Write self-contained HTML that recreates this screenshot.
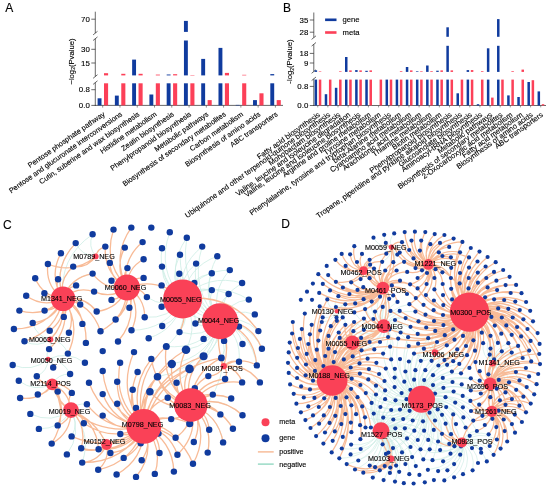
<!DOCTYPE html>
<html><head><meta charset="utf-8"><title>Figure</title>
<style>html,body{margin:0;padding:0;background:#fff}svg{display:block}text{font-family:"Liberation Sans",Arial,sans-serif;stroke:#000;stroke-width:.12px}</style>
</head><body>
<svg width="550" height="489" viewBox="0 0 550 489" font-family="Liberation Sans, Arial, sans-serif" fill="#000">
<line x1="95.3" y1="11.7" x2="95.3" y2="33.1" stroke="#2a2a2a" stroke-width="0.7"/>
<line x1="95.3" y1="38.7" x2="95.3" y2="76.5" stroke="#2a2a2a" stroke-width="0.7"/>
<line x1="95.3" y1="82.6" x2="95.3" y2="105.8" stroke="#2a2a2a" stroke-width="0.7"/>
<line x1="93.1" y1="34.9" x2="97.5" y2="31.3" stroke="#2a2a2a" stroke-width="0.7"/>
<line x1="93.1" y1="40.5" x2="97.5" y2="36.9" stroke="#2a2a2a" stroke-width="0.7"/>
<line x1="93.1" y1="78.3" x2="97.5" y2="74.7" stroke="#2a2a2a" stroke-width="0.7"/>
<line x1="93.1" y1="84.4" x2="97.5" y2="80.8" stroke="#2a2a2a" stroke-width="0.7"/>
<line x1="94.9" y1="105.4" x2="283" y2="105.4" stroke="#2a2a2a" stroke-width="0.7"/>
<line x1="91.3" y1="19.2" x2="95.3" y2="19.2" stroke="#2a2a2a" stroke-width="0.7"/>
<text x="89.8" y="21.95" font-size="7.9" text-anchor="end">70</text>
<line x1="91.3" y1="49.3" x2="95.3" y2="49.3" stroke="#2a2a2a" stroke-width="0.7"/>
<text x="89.8" y="52.05" font-size="7.9" text-anchor="end">30</text>
<line x1="91.3" y1="63" x2="95.3" y2="63" stroke="#2a2a2a" stroke-width="0.7"/>
<text x="89.8" y="65.75" font-size="7.9" text-anchor="end">15</text>
<line x1="91.3" y1="89.7" x2="95.3" y2="89.7" stroke="#2a2a2a" stroke-width="0.7"/>
<text x="89.8" y="92.45" font-size="7.9" text-anchor="end">0.8</text>
<line x1="91.3" y1="105.4" x2="95.3" y2="105.4" stroke="#2a2a2a" stroke-width="0.7"/>
<text x="89.8" y="108.15" font-size="7.9" text-anchor="end">0.0</text>
<text x="73.6" y="61.5" font-size="7.7" text-anchor="middle" transform="rotate(-90 73.6 61.5)">−log<tspan font-size="5" dy="1.5">2</tspan><tspan dy="-1.5">(Pvalue)</tspan></text>
<rect x="97.6" y="98.3" width="3.9" height="7.1" fill="#103B9E"/>
<rect x="104" y="83.3" width="4.1" height="22.1" fill="#FC4058"/>
<rect x="104" y="73.2" width="4.1" height="2.2" fill="#FC4058"/>
<line x1="102.7" y1="105.4" x2="102.7" y2="107.6" stroke="#444" stroke-width="0.6"/>
<text x="105.5" y="115.3" font-size="7.3" text-anchor="end" transform="rotate(-35 105.5 115.3)">Pentose phosphate pathway</text>
<rect x="114.87" y="95.6" width="3.9" height="9.8" fill="#103B9E"/>
<rect x="121.27" y="83.3" width="4.1" height="22.1" fill="#FC4058"/>
<rect x="121.27" y="73.8" width="4.1" height="1.6" fill="#FC4058"/>
<line x1="119.97" y1="105.4" x2="119.97" y2="107.6" stroke="#444" stroke-width="0.6"/>
<text x="122.77" y="115.3" font-size="7.3" text-anchor="end" transform="rotate(-35 122.77 115.3)">Pentose and glucuronate interconversions</text>
<rect x="132.14" y="83.3" width="3.9" height="22.1" fill="#103B9E"/>
<rect x="132.14" y="59.6" width="3.9" height="15.8" fill="#103B9E"/>
<rect x="138.54" y="83.3" width="4.1" height="22.1" fill="#FC4058"/>
<rect x="138.54" y="73.8" width="4.1" height="1.6" fill="#FC4058"/>
<line x1="137.24" y1="105.4" x2="137.24" y2="107.6" stroke="#444" stroke-width="0.6"/>
<text x="140.04" y="115.3" font-size="7.3" text-anchor="end" transform="rotate(-35 140.04 115.3)">Cutin, suberine and wax biosynthesis</text>
<rect x="149.41" y="94.5" width="3.9" height="10.9" fill="#103B9E"/>
<rect x="155.81" y="83.3" width="4.1" height="22.1" fill="#FC4058"/>
<rect x="155.81" y="74.6" width="4.1" height="0.8" fill="#FC4058"/>
<line x1="154.51" y1="105.4" x2="154.51" y2="107.6" stroke="#444" stroke-width="0.6"/>
<text x="157.31" y="115.3" font-size="7.3" text-anchor="end" transform="rotate(-35 157.31 115.3)">Histidine metabolism</text>
<rect x="166.68" y="83.3" width="3.9" height="22.1" fill="#103B9E"/>
<rect x="166.68" y="74.5" width="3.9" height="0.9" fill="#103B9E"/>
<rect x="173.08" y="83.3" width="4.1" height="22.1" fill="#FC4058"/>
<rect x="173.08" y="74.2" width="4.1" height="1.2" fill="#FC4058"/>
<line x1="171.78" y1="105.4" x2="171.78" y2="107.6" stroke="#444" stroke-width="0.6"/>
<text x="174.58" y="115.3" font-size="7.3" text-anchor="end" transform="rotate(-35 174.58 115.3)">Zeatin biosynthesis</text>
<rect x="183.95" y="83.3" width="3.9" height="22.1" fill="#103B9E"/>
<rect x="183.95" y="40.5" width="3.9" height="34.9" fill="#103B9E"/>
<rect x="183.95" y="20.9" width="3.9" height="11" fill="#103B9E"/>
<rect x="190.35" y="83.3" width="4.1" height="22.1" fill="#FC4058"/>
<rect x="190.35" y="75" width="4.1" height="0.4" fill="#FC4058"/>
<line x1="189.05" y1="105.4" x2="189.05" y2="107.6" stroke="#444" stroke-width="0.6"/>
<text x="191.85" y="115.3" font-size="7.3" text-anchor="end" transform="rotate(-35 191.85 115.3)">Phenylpropanoid biosynthesis</text>
<rect x="201.22" y="83.3" width="3.9" height="22.1" fill="#103B9E"/>
<rect x="201.22" y="58.9" width="3.9" height="16.5" fill="#103B9E"/>
<rect x="207.62" y="100.1" width="4.1" height="5.3" fill="#FC4058"/>
<line x1="206.32" y1="105.4" x2="206.32" y2="107.6" stroke="#444" stroke-width="0.6"/>
<text x="209.12" y="115.3" font-size="7.3" text-anchor="end" transform="rotate(-35 209.12 115.3)">Metabolic pathways</text>
<rect x="218.49" y="83.3" width="3.9" height="22.1" fill="#103B9E"/>
<rect x="218.49" y="47.9" width="3.9" height="27.5" fill="#103B9E"/>
<rect x="224.89" y="83.3" width="4.1" height="22.1" fill="#FC4058"/>
<rect x="224.89" y="72.9" width="4.1" height="2.5" fill="#FC4058"/>
<line x1="223.59" y1="105.4" x2="223.59" y2="107.6" stroke="#444" stroke-width="0.6"/>
<text x="226.39" y="115.3" font-size="7.3" text-anchor="end" transform="rotate(-35 226.39 115.3)">Biosynthesis of secondary metabolites</text>
<rect x="235.76" y="104.9" width="3.9" height="0.5" fill="#103B9E"/>
<rect x="242.16" y="83.3" width="4.1" height="22.1" fill="#FC4058"/>
<rect x="242.16" y="74.8" width="4.1" height="0.6" fill="#FC4058"/>
<line x1="240.86" y1="105.4" x2="240.86" y2="107.6" stroke="#444" stroke-width="0.6"/>
<text x="243.66" y="115.3" font-size="7.3" text-anchor="end" transform="rotate(-35 243.66 115.3)">Carbon metabolism</text>
<rect x="253.03" y="100.1" width="3.9" height="5.3" fill="#103B9E"/>
<rect x="259.43" y="93.3" width="4.1" height="12.1" fill="#FC4058"/>
<line x1="258.13" y1="105.4" x2="258.13" y2="107.6" stroke="#444" stroke-width="0.6"/>
<text x="260.93" y="115.3" font-size="7.3" text-anchor="end" transform="rotate(-35 260.93 115.3)">Biosynthesis of amino acids</text>
<rect x="270.3" y="83.3" width="3.9" height="22.1" fill="#103B9E"/>
<rect x="270.3" y="74.1" width="3.9" height="1.3" fill="#103B9E"/>
<rect x="276.7" y="100.1" width="4.1" height="5.3" fill="#FC4058"/>
<line x1="275.4" y1="105.4" x2="275.4" y2="107.6" stroke="#444" stroke-width="0.6"/>
<text x="278.2" y="115.3" font-size="7.3" text-anchor="end" transform="rotate(-35 278.2 115.3)">ABC transporters</text>
<text x="5.2" y="11.8" font-size="12" text-anchor="start">A</text>
<line x1="313.8" y1="12.5" x2="313.8" y2="37.6" stroke="#2a2a2a" stroke-width="0.7"/>
<line x1="313.8" y1="44.3" x2="313.8" y2="71.5" stroke="#2a2a2a" stroke-width="0.7"/>
<line x1="313.8" y1="78.8" x2="313.8" y2="105.9" stroke="#2a2a2a" stroke-width="0.7"/>
<line x1="311.6" y1="39.4" x2="316" y2="35.8" stroke="#2a2a2a" stroke-width="0.7"/>
<line x1="311.6" y1="46.1" x2="316" y2="42.5" stroke="#2a2a2a" stroke-width="0.7"/>
<line x1="311.6" y1="73.3" x2="316" y2="69.7" stroke="#2a2a2a" stroke-width="0.7"/>
<line x1="311.6" y1="80.6" x2="316" y2="77" stroke="#2a2a2a" stroke-width="0.7"/>
<line x1="313.4" y1="105.5" x2="546" y2="105.5" stroke="#2a2a2a" stroke-width="0.7"/>
<line x1="309.8" y1="20" x2="313.8" y2="20" stroke="#2a2a2a" stroke-width="0.7"/>
<text x="308.3" y="22.75" font-size="7.9" text-anchor="end">35</text>
<line x1="309.8" y1="32.2" x2="313.8" y2="32.2" stroke="#2a2a2a" stroke-width="0.7"/>
<text x="308.3" y="34.95" font-size="7.9" text-anchor="end">28</text>
<line x1="309.8" y1="53.4" x2="313.8" y2="53.4" stroke="#2a2a2a" stroke-width="0.7"/>
<text x="308.3" y="56.15" font-size="7.9" text-anchor="end">18</text>
<line x1="309.8" y1="63" x2="313.8" y2="63" stroke="#2a2a2a" stroke-width="0.7"/>
<text x="308.3" y="65.75" font-size="7.9" text-anchor="end">9</text>
<line x1="309.8" y1="86.4" x2="313.8" y2="86.4" stroke="#2a2a2a" stroke-width="0.7"/>
<text x="308.3" y="89.15" font-size="7.9" text-anchor="end">0.8</text>
<line x1="309.8" y1="105.5" x2="313.8" y2="105.5" stroke="#2a2a2a" stroke-width="0.7"/>
<text x="308.3" y="108.25" font-size="7.9" text-anchor="end">0.0</text>
<text x="292" y="61.5" font-size="7.7" text-anchor="middle" transform="rotate(-90 292 61.5)">-log<tspan font-size="5" dy="1.5">2</tspan><tspan dy="-1.5">(Pvalue)</tspan></text>
<rect x="314.6" y="79.6" width="2.5" height="25.9" fill="#103B9E"/>
<rect x="314.6" y="70.3" width="2.5" height="1.6" fill="#103B9E"/>
<rect x="318.8" y="79.6" width="2.5" height="25.9" fill="#FC4058"/>
<rect x="318.8" y="71.4" width="2.5" height="0.5" fill="#FC4058"/>
<line x1="317.75" y1="105.5" x2="317.75" y2="107.4" stroke="#555" stroke-width="0.6"/>
<text x="320.55" y="115.9" font-size="7.45" text-anchor="end" transform="rotate(-35.5 320.55 115.9)">Fatty acid biosynthesis</text>
<rect x="324.74" y="94.2" width="2.5" height="11.3" fill="#103B9E"/>
<rect x="328.94" y="79.6" width="2.5" height="25.9" fill="#FC4058"/>
<line x1="327.88" y1="105.5" x2="327.88" y2="107.4" stroke="#555" stroke-width="0.6"/>
<text x="330.69" y="115.9" font-size="7.45" text-anchor="end" transform="rotate(-35.5 330.69 115.9)">Ubiquinone and other terpenoid-quinone biosynthesis</text>
<rect x="334.87" y="87.8" width="2.5" height="17.7" fill="#103B9E"/>
<rect x="339.07" y="79.6" width="2.5" height="25.9" fill="#FC4058"/>
<rect x="339.07" y="71.3" width="2.5" height="0.6" fill="#FC4058"/>
<line x1="338.02" y1="105.5" x2="338.02" y2="107.4" stroke="#555" stroke-width="0.6"/>
<text x="340.82" y="115.9" font-size="7.45" text-anchor="end" transform="rotate(-35.5 340.82 115.9)">Monobactam biosynthesis</text>
<rect x="345" y="79.6" width="2.5" height="25.9" fill="#103B9E"/>
<rect x="345" y="57" width="2.5" height="14.9" fill="#103B9E"/>
<rect x="349.21" y="79.6" width="2.5" height="25.9" fill="#FC4058"/>
<rect x="349.21" y="70.4" width="2.5" height="1.5" fill="#FC4058"/>
<line x1="348.15" y1="105.5" x2="348.15" y2="107.4" stroke="#555" stroke-width="0.6"/>
<text x="350.95" y="115.9" font-size="7.45" text-anchor="end" transform="rotate(-35.5 350.95 115.9)">Valine, leucine and isoleucine degradation</text>
<rect x="355.14" y="79.6" width="2.5" height="25.9" fill="#103B9E"/>
<rect x="355.14" y="70.1" width="2.5" height="1.8" fill="#103B9E"/>
<rect x="359.34" y="79.6" width="2.5" height="25.9" fill="#FC4058"/>
<rect x="359.34" y="70.4" width="2.5" height="1.5" fill="#FC4058"/>
<line x1="358.29" y1="105.5" x2="358.29" y2="107.4" stroke="#555" stroke-width="0.6"/>
<text x="361.09" y="115.9" font-size="7.45" text-anchor="end" transform="rotate(-35.5 361.09 115.9)">Valine, leucine and isoleucine biosynthesis</text>
<rect x="365.28" y="79.6" width="2.5" height="25.9" fill="#103B9E"/>
<rect x="365.28" y="70.8" width="2.5" height="1.1" fill="#103B9E"/>
<rect x="369.48" y="79.6" width="2.5" height="25.9" fill="#FC4058"/>
<rect x="369.48" y="70.4" width="2.5" height="1.5" fill="#FC4058"/>
<line x1="368.43" y1="105.5" x2="368.43" y2="107.4" stroke="#555" stroke-width="0.6"/>
<text x="371.23" y="115.9" font-size="7.45" text-anchor="end" transform="rotate(-35.5 371.23 115.9)">Arginine and proline metabolism</text>
<rect x="379.61" y="79.6" width="2.5" height="25.9" fill="#FC4058"/>
<line x1="378.56" y1="105.5" x2="378.56" y2="107.4" stroke="#555" stroke-width="0.6"/>
<text x="381.36" y="115.9" font-size="7.45" text-anchor="end" transform="rotate(-35.5 381.36 115.9)">Tyrosine metabolism</text>
<rect x="385.55" y="79.6" width="2.5" height="25.9" fill="#103B9E"/>
<rect x="389.75" y="79.6" width="2.5" height="25.9" fill="#FC4058"/>
<line x1="388.69" y1="105.5" x2="388.69" y2="107.4" stroke="#555" stroke-width="0.6"/>
<text x="391.5" y="115.9" font-size="7.45" text-anchor="end" transform="rotate(-35.5 391.5 115.9)">Phenylalanine, tyrosine and tryptophan biosynthesis</text>
<rect x="395.68" y="79.6" width="2.5" height="25.9" fill="#103B9E"/>
<rect x="399.88" y="79.6" width="2.5" height="25.9" fill="#FC4058"/>
<rect x="399.88" y="71.2" width="2.5" height="0.7" fill="#FC4058"/>
<line x1="398.83" y1="105.5" x2="398.83" y2="107.4" stroke="#555" stroke-width="0.6"/>
<text x="401.63" y="115.9" font-size="7.45" text-anchor="end" transform="rotate(-35.5 401.63 115.9)">beta-Alanine metabolism</text>
<rect x="405.82" y="79.6" width="2.5" height="25.9" fill="#103B9E"/>
<rect x="405.82" y="67" width="2.5" height="4.9" fill="#103B9E"/>
<rect x="410.01" y="79.6" width="2.5" height="25.9" fill="#FC4058"/>
<rect x="410.01" y="70.4" width="2.5" height="1.5" fill="#FC4058"/>
<line x1="408.97" y1="105.5" x2="408.97" y2="107.4" stroke="#555" stroke-width="0.6"/>
<text x="411.77" y="115.9" font-size="7.45" text-anchor="end" transform="rotate(-35.5 411.77 115.9)">Cyanoamino acid metabolism</text>
<rect x="415.95" y="79.6" width="2.5" height="25.9" fill="#103B9E"/>
<rect x="415.95" y="71.3" width="2.5" height="0.6" fill="#103B9E"/>
<rect x="420.15" y="79.6" width="2.5" height="25.9" fill="#FC4058"/>
<rect x="420.15" y="71.3" width="2.5" height="0.6" fill="#FC4058"/>
<line x1="419.1" y1="105.5" x2="419.1" y2="107.4" stroke="#555" stroke-width="0.6"/>
<text x="421.9" y="115.9" font-size="7.45" text-anchor="end" transform="rotate(-35.5 421.9 115.9)">Arachidonic acid metabolism</text>
<rect x="426.09" y="79.6" width="2.5" height="25.9" fill="#103B9E"/>
<rect x="426.09" y="65.5" width="2.5" height="6.4" fill="#103B9E"/>
<rect x="430.29" y="79.6" width="2.5" height="25.9" fill="#FC4058"/>
<rect x="430.29" y="71.2" width="2.5" height="0.7" fill="#FC4058"/>
<line x1="429.24" y1="105.5" x2="429.24" y2="107.4" stroke="#555" stroke-width="0.6"/>
<text x="432.04" y="115.9" font-size="7.45" text-anchor="end" transform="rotate(-35.5 432.04 115.9)">Thiamine metabolism</text>
<rect x="436.22" y="79.6" width="2.5" height="25.9" fill="#103B9E"/>
<rect x="436.22" y="70.7" width="2.5" height="1.2" fill="#103B9E"/>
<rect x="440.42" y="79.6" width="2.5" height="25.9" fill="#FC4058"/>
<rect x="440.42" y="70.4" width="2.5" height="1.5" fill="#FC4058"/>
<line x1="439.37" y1="105.5" x2="439.37" y2="107.4" stroke="#555" stroke-width="0.6"/>
<text x="442.17" y="115.9" font-size="7.45" text-anchor="end" transform="rotate(-35.5 442.17 115.9)">Biotin metabolism</text>
<rect x="446.36" y="79.6" width="2.5" height="25.9" fill="#103B9E"/>
<rect x="446.36" y="45.8" width="2.5" height="26.1" fill="#103B9E"/>
<rect x="446.36" y="27.3" width="2.5" height="9.5" fill="#103B9E"/>
<rect x="450.56" y="79.6" width="2.5" height="25.9" fill="#FC4058"/>
<rect x="450.56" y="70.4" width="2.5" height="1.5" fill="#FC4058"/>
<line x1="449.5" y1="105.5" x2="449.5" y2="107.4" stroke="#555" stroke-width="0.6"/>
<text x="452.31" y="115.9" font-size="7.45" text-anchor="end" transform="rotate(-35.5 452.31 115.9)">Phenylpropanoid biosynthesis</text>
<rect x="456.49" y="93.3" width="2.5" height="12.2" fill="#103B9E"/>
<rect x="460.69" y="79.6" width="2.5" height="25.9" fill="#FC4058"/>
<line x1="459.64" y1="105.5" x2="459.64" y2="107.4" stroke="#555" stroke-width="0.6"/>
<text x="462.44" y="115.9" font-size="7.45" text-anchor="end" transform="rotate(-35.5 462.44 115.9)">Tropane, piperidine and pyridine alkaloid biosynthesis</text>
<rect x="466.62" y="79.6" width="2.5" height="25.9" fill="#103B9E"/>
<rect x="466.62" y="70.1" width="2.5" height="1.8" fill="#103B9E"/>
<rect x="470.83" y="79.6" width="2.5" height="25.9" fill="#FC4058"/>
<rect x="470.83" y="70.1" width="2.5" height="1.8" fill="#FC4058"/>
<line x1="469.77" y1="105.5" x2="469.77" y2="107.4" stroke="#555" stroke-width="0.6"/>
<text x="472.57" y="115.9" font-size="7.45" text-anchor="end" transform="rotate(-35.5 472.57 115.9)">Glucosinolate biosynthesis</text>
<rect x="476.76" y="104.2" width="2.5" height="1.3" fill="#103B9E"/>
<rect x="480.96" y="79.6" width="2.5" height="25.9" fill="#FC4058"/>
<rect x="480.96" y="71.2" width="2.5" height="0.7" fill="#FC4058"/>
<line x1="479.91" y1="105.5" x2="479.91" y2="107.4" stroke="#555" stroke-width="0.6"/>
<text x="482.71" y="115.9" font-size="7.45" text-anchor="end" transform="rotate(-35.5 482.71 115.9)">Aminoacyl-tRNA biosynthesis</text>
<rect x="486.89" y="79.6" width="2.5" height="25.9" fill="#103B9E"/>
<rect x="486.89" y="48.3" width="2.5" height="23.6" fill="#103B9E"/>
<rect x="491.1" y="97.6" width="2.5" height="7.9" fill="#FC4058"/>
<line x1="490.04" y1="105.5" x2="490.04" y2="107.4" stroke="#555" stroke-width="0.6"/>
<text x="492.84" y="115.9" font-size="7.45" text-anchor="end" transform="rotate(-35.5 492.84 115.9)">Metabolic pathways</text>
<rect x="497.03" y="79.6" width="2.5" height="25.9" fill="#103B9E"/>
<rect x="497.03" y="45.8" width="2.5" height="26.1" fill="#103B9E"/>
<rect x="497.03" y="19.1" width="2.5" height="17.7" fill="#103B9E"/>
<rect x="501.23" y="79.6" width="2.5" height="25.9" fill="#FC4058"/>
<line x1="500.18" y1="105.5" x2="500.18" y2="107.4" stroke="#555" stroke-width="0.6"/>
<text x="502.98" y="115.9" font-size="7.45" text-anchor="end" transform="rotate(-35.5 502.98 115.9)">Biosynthesis of secondary metabolites</text>
<rect x="507.17" y="95.4" width="2.5" height="10.1" fill="#103B9E"/>
<rect x="511.37" y="79.6" width="2.5" height="25.9" fill="#FC4058"/>
<rect x="511.37" y="71.2" width="2.5" height="0.7" fill="#FC4058"/>
<line x1="510.31" y1="105.5" x2="510.31" y2="107.4" stroke="#555" stroke-width="0.6"/>
<text x="513.12" y="115.9" font-size="7.45" text-anchor="end" transform="rotate(-35.5 513.12 115.9)">2-Oxocarboxylic acid metabolism</text>
<rect x="517.3" y="97" width="2.5" height="8.5" fill="#103B9E"/>
<rect x="521.5" y="79.6" width="2.5" height="25.9" fill="#FC4058"/>
<rect x="521.5" y="69.6" width="2.5" height="2.3" fill="#FC4058"/>
<line x1="520.45" y1="105.5" x2="520.45" y2="107.4" stroke="#555" stroke-width="0.6"/>
<text x="523.25" y="115.9" font-size="7.45" text-anchor="end" transform="rotate(-35.5 523.25 115.9)">Fatty acid metabolism</text>
<rect x="527.44" y="82" width="2.5" height="23.5" fill="#103B9E"/>
<rect x="531.63" y="80.2" width="2.5" height="25.3" fill="#FC4058"/>
<line x1="530.59" y1="105.5" x2="530.59" y2="107.4" stroke="#555" stroke-width="0.6"/>
<text x="533.38" y="115.9" font-size="7.45" text-anchor="end" transform="rotate(-35.5 533.38 115.9)">Biosynthesis of amino acids</text>
<rect x="537.57" y="91.4" width="2.5" height="14.1" fill="#103B9E"/>
<rect x="541.77" y="104.2" width="2.5" height="1.3" fill="#FC4058"/>
<line x1="540.72" y1="105.5" x2="540.72" y2="107.4" stroke="#555" stroke-width="0.6"/>
<text x="543.52" y="115.9" font-size="7.45" text-anchor="end" transform="rotate(-35.5 543.52 115.9)">ABC transporters</text>
<rect x="325.1" y="18.5" width="11.4" height="2.6" fill="#103B9E"/>
<rect x="325.1" y="31.2" width="11.4" height="2.6" fill="#FC4058"/>
<text x="342.5" y="22.3" font-size="7.7" text-anchor="start">gene</text>
<text x="342.5" y="35" font-size="7.7" text-anchor="start">meta</text>
<text x="283" y="12.4" font-size="12" text-anchor="start">B</text>
<path d="M182.6 299Q156.19 269.49 169.8 232.3M182.6 299Q166.34 267.14 186.8 237.8M182.6 299Q157.06 279.78 162 248.2M182.6 299Q168.04 277.68 180 254.8M182.6 299Q162.58 288.98 162 266.6M182.6 299Q173.39 287.39 179.3 273.8M182.6 299Q168.02 298.5 161.6 285.4M182.6 299Q164.18 308.76 146.9 297.1M182.6 299Q174.44 309.2 161.6 306.8M182.6 299Q169.11 319.47 144.7 317.2M182.6 299Q176.68 266.92 202.2 246.6M182.6 299Q187.11 267.19 217.3 256.2M220.1 321.2Q209.62 292.74 229.8 270.1M182.6 299Q197.53 270.39 229.8 270.1M220.1 321.2Q219.64 295.5 242.1 283M220.1 321.2Q227.97 301.79 248.8 299.6M220.1 321.2Q235.41 307.39 254.8 314.4M182.6 299Q178.73 277.25 196.1 263.6M182.6 299Q189.46 277.34 211.8 273.2M220.1 321.2Q201.55 299.69 211.8 273.2M182.6 299Q183.7 287.46 194.4 283M182.6 299Q194.53 285.79 211.8 290.1M220.1 321.2Q206.62 308.14 211.8 290.1M220.1 321.2Q216.19 305.05 228.6 294M220.1 321.2Q242.22 314.66 258.4 331.1M220.1 321.2Q249.25 322.41 261.9 348.7M220.1 321.2Q251.71 332.29 256.8 365.4M220.1 321.2Q231.17 318.23 239 326.6M220.1 321.2Q238.14 325.88 242.5 344M220.1 321.2Q241.73 335.83 239 361.8M220.1 321.2Q208.44 329.76 195.4 323.5M182.6 299Q196.35 307.41 195.4 323.5M182.6 299Q190.98 316.48 179.5 332.1M220.1 321.2Q203.07 338.83 179.5 332.1M220.1 321.2Q217.16 335 203.6 338.9M220.1 321.2Q228.01 329.85 224.1 340.9M220.1 321.2Q211.6 345.68 186 349.7M182.6 299Q199.51 323.33 186 349.7M220.1 321.2Q222.35 343.65 203.6 356.2M220.1 321.2Q231.76 339.16 221.4 357.9M182.6 299Q166.44 329.98 131.5 330.3M182.6 299Q180.5 318.62 162.2 326M182.6 299Q177.41 328.77 148.7 338.2M182.6 299Q188.67 327.59 166.3 346.4M220.1 321.2Q178.43 289.49 186.8 237.8M220.1 321.2Q180.13 300.03 180 254.8M220.1 321.2Q174.67 311.33 162 266.6M220.1 321.2Q185.48 309.74 179.3 273.8M220.1 321.2Q180.11 320.85 161.6 285.4M220.1 321.2Q188.77 289.27 202.2 246.6M220.1 321.2Q199.2 289.54 217.3 256.2M182.6 299Q207.55 273.15 242.1 283M182.6 299Q215.88 279.44 248.8 299.6M220.1 321.2Q190.82 299.6 196.1 263.6M220.1 321.2Q195.79 309.81 194.4 283M182.6 299Q204.1 282.7 228.6 294M220.1 321.2Q219.11 354.23 189.5 368.9M220.1 321.2Q200.76 349.94 166.3 346.4M220.1 321.2Q208.79 357.09 171.8 364M220.1 321.2Q205.45 367.73 157.5 376.7M220.1 321.2Q206.18 377.56 149.9 391.8M220.1 321.2Q235.65 381.57 189.7 423.7M95.7 256.4Q81.71 255.75 75.7 243.1M95.7 256.4Q87.52 246.28 92.6 234.3M63 298.7Q58.48 257.62 92.6 234.3M63 298.7Q70.27 277.27 92.6 273.6M63 298.7Q52.67 267.09 75.7 243.1M50.3 339.5Q37.94 348.14 24.5 341.3M50.3 339.5Q52.58 344.66 49.1 349.1M50.3 339.5Q63.33 341.27 67.9 353.6M50.3 339.5Q36.52 336.48 32.7 322.9M48.1 359.3Q32.11 372.77 12.7 365M48.1 359.3Q47.55 371.19 36.8 376.3M48.1 359.3Q53.11 361.87 53.2 367.5M48.1 359.3Q63.51 360.05 70.1 374M48.1 359.3Q67.55 350.01 84.9 362.8M48.1 359.3Q45.54 353.9 49.1 349.1M52.1 384.3Q34.4 392.54 18.8 380.8M52.1 384.3Q58.01 373.75 70.1 374M71 410.1Q60.59 429.13 38.9 428.9M71 410.1Q51.79 424.21 30.3 413.9M71 410.1Q79.19 423.07 71.6 436.4M71 410.1Q82.24 433.48 66.9 454.4M71 410.1Q77.21 402.43 86.9 404.3M71 410.1Q92.35 432.99 82.2 462.6M190.8 405Q218.17 414.01 223.1 442.4M190.8 405Q213.53 423.73 207.7 452.6M190.8 405Q218.96 404.22 232.9 428.7M190.8 405Q219.71 394.59 242.5 415.2M190.8 405Q209.05 389.63 231.2 398.5" fill="none" stroke="#CDEDE4" stroke-width="0.8"/>
<path d="M63 298.7Q52.67 267.09 75.7 243.1M63 298.7Q48.33 276.63 60.9 253.3M63 298.7Q45.04 285.88 47.9 264M63 298.7Q58.47 279.59 73.2 266.6M127 287.5Q105.63 290.87 92.6 273.6M63 298.7Q70.27 277.27 92.6 273.6M63 298.7Q42.98 296.84 35.2 278.3M63 298.7Q54.73 290.47 58.1 279.3M63 298.7Q65.56 288.12 76.1 285.4M63 298.7Q76.42 285.82 94.1 291.6M127 287.5Q111.78 299.42 94.1 291.6M63 298.7Q43.7 308.24 26.2 295.7M63 298.7Q52.05 301.53 44.4 293.2M63 298.7Q73.34 296.44 80.2 304.5M63 298.7Q44.77 317.73 19.4 310.6M63 298.7Q57.37 310.17 44.6 310.6M63 298.7Q83.69 294.99 96.7 311.5M127 287.5Q119.05 308.59 96.7 311.5M63 298.7Q68.86 307.56 63.8 316.9M127 287.5Q102.88 262.6 113.5 229.6M127 287.5Q111.18 256.26 131.3 227.6M127 287.5Q103.88 273.56 105.3 246.6M127 287.5Q113.93 268.21 124.8 247.6M127 287.5Q121.18 260.12 142.6 242.1M127 287.5Q111.02 280.36 109.8 262.9M127 287.5Q126.84 268.42 143.6 259.3M127 287.5Q121.38 277.68 127.4 268.1M127 287.5Q132.42 277.72 143.6 277.9M127 287.5Q117.21 288.75 111.5 280.7M127 287.5Q139.83 286.33 146.9 297.1M127 287.5Q122.97 298.35 111.5 299.9M127 287.5Q134.29 296.93 129.4 307.8M127 287.5Q144.76 297.04 144.7 317.2M127 287.5Q130.9 306.92 115.6 319.5M190.8 405Q209.67 378.31 242.1 382.4M190.8 405Q171.81 378.79 186 349.7M190.8 405Q182.56 376.76 203.6 356.2M190.8 405Q179.32 387.34 189.5 368.9M190.8 405Q190.88 385.3 208.3 376.1M190.8 405Q200.15 381.71 225.1 379M190.8 405Q177.04 398.16 176.6 382.8M190.8 405Q187.79 395.45 194.8 388.3M190.8 405Q198.68 393.2 212.8 394.6M190.8 405Q209.05 389.63 231.2 398.5M63 298.7Q91.5 303.7 100.5 331.2M127 287.5Q126.86 317.3 100.5 331.2M127 287.5Q142.09 307.55 131.5 330.3M127 287.5Q138.7 317.2 118 341.5M190.8 405Q157.22 393.8 151.3 358.9M143.8 426.4Q112.87 401.71 120.1 362.8M190.8 405Q169 390.2 171.8 364M143.8 426.4Q106.63 411.03 102.7 371M143.8 426.4Q124.38 401.06 137.6 372M190.8 405Q165.66 400.84 157.5 376.7M143.8 426.4Q135.74 397.44 157.5 376.7M143.8 426.4Q117.12 412.08 117.2 381.8M143.8 426.4Q103.32 421.04 89 382.8M143.8 426.4Q127.27 411.43 132.7 389.8M143.8 426.4Q136.47 407.27 149.9 391.8M190.8 405Q166.39 410.67 149.9 391.8M143.8 426.4Q113.56 422.58 102.7 394.1M190.8 405Q177.09 408.33 167.7 397.8M143.8 426.4Q147.17 404.93 167.7 397.8M63 298.7Q55.11 319.89 32.7 322.9M63 298.7Q80.26 305.48 82.4 323.9M63 298.7Q47.54 328.58 13.9 329M63 298.7Q65.95 318.69 49.7 330.7M63 298.7Q76.15 313.93 68.9 332.7M63 298.7Q56.53 331.55 24.5 341.3M63 298.7Q87.71 313.93 85.9 342.9M63 298.7Q71.17 328.07 49.1 349.1M63 298.7Q81.92 324.68 67.9 353.6M143.8 426.4Q108.72 432.42 86.9 404.3M143.8 426.4Q112.84 442.8 83.8 423.2M143.8 426.4Q110.7 453.06 71.6 436.4M143.8 426.4Q119.07 456.13 81.2 448.3M143.8 426.4Q128.07 451.41 98.6 449.3M143.8 426.4Q123.86 462.98 82.2 462.6M143.8 426.4Q134.02 461.78 98.2 469.8M143.8 426.4Q120.01 433.33 102.7 415.6M143.8 426.4Q123.69 423.03 117.2 403.7M143.8 426.4Q134.38 419.54 136 408M190.8 405Q185.23 417.93 171.2 419.1M143.8 426.4Q155.31 414.53 171.2 419.1M190.8 405Q195.86 414.68 189.7 423.7M143.8 426.4Q134.33 437.25 120.3 434M143.8 426.4Q153.31 425.59 158.5 433.6M143.8 426.4Q163.09 422.51 175.6 437.7M190.8 405Q193.01 425.91 175.6 437.7M143.8 426.4Q147.29 435.73 140.7 443.2M143.8 426.4Q135.08 449.72 110.4 453M143.8 426.4Q143.2 448.18 123.7 457.9M143.8 426.4Q159.63 434.99 159.5 453M143.8 426.4Q169.09 430.47 177.4 454.7M190.8 405Q199.01 433.87 177.4 454.7M143.8 426.4Q152.89 443.93 141.7 460.2M143.8 426.4Q144.63 458.61 116.6 474.5M143.8 426.4Q155.05 453.99 136 476.9M143.8 426.4Q163.55 446.85 154.8 473.9M143.8 426.4Q172.41 439.97 173.9 471.6M190.8 405Q208.42 400.82 220.4 414.4M190.8 405Q219.71 394.59 242.5 415.2M190.8 405Q207.41 411.83 209.2 429.7M190.8 405Q218.96 404.22 232.9 428.7M190.8 405Q203.4 422.6 193.8 442M190.8 405Q218.17 414.01 223.1 442.4M190.8 405Q213.53 423.73 207.7 452.6M190.8 405Q209.54 433.74 193 463.8M143.8 426.4Q179.62 430.34 193 463.8M143.8 426.4Q141.89 375.39 186 349.7M143.8 426.4Q152.64 373.36 203.6 356.2M190.8 405Q191.97 372.27 221.4 357.9M143.8 426.4Q162.05 368.87 221.4 357.9M143.8 426.4Q149.4 383.94 189.5 368.9M190.8 405Q160.97 383.05 166.3 346.4M143.8 426.4Q131.05 379.65 166.3 346.4M143.8 426.4Q139.08 386.8 171.8 364M143.8 426.4Q165.94 411.28 189.7 423.7M95.7 256.4Q87.51 268.25 73.2 266.6M95.7 256.4Q97.56 248.62 105.3 246.6M95.7 256.4Q74.08 274.54 47.9 264M52.1 384.3Q40.21 400.75 20.1 398M52.1 384.3Q48.01 393.69 37.8 394.5M52.1 384.3Q57.09 386.27 57.7 391.6M52.1 384.3Q64.53 382.69 71.8 392.9M52.1 384.3Q67.23 403.17 57.7 425.4M52.1 384.3Q69.69 414.07 51.7 443.6M52.1 384.3Q42.05 384.89 36.8 376.3M71 410.1Q68.94 421.74 57.7 425.4M71 410.1Q71.4 432.64 51.7 443.6M71 410.1Q81.33 412.81 83.8 423.2M71 410.1Q87.56 426.14 81.2 448.3M71 410.1Q66.24 401.26 71.8 392.9M71 410.1Q58.8 404.84 57.7 391.6M71 410.1Q96.56 421.42 98.6 449.3M106.6 444.5Q95.04 454.02 81.2 448.3M106.6 444.5Q104.04 449.3 98.6 449.3M106.6 444.5Q109.99 459.67 98.2 469.8M106.6 444.5Q111.05 447.61 110.4 453M106.6 444.5Q99.83 460.87 82.2 462.6M223.8 366.2Q240.06 355.9 256.8 365.4M223.8 366.2Q230.08 359.44 239 361.8M223.8 366.2Q237.81 368.81 242.1 382.4M223.8 366.2Q228.29 372.21 225.1 379M223.8 366.2Q246.71 363.47 259.9 382.4M223.8 366.2Q220.11 362.77 221.4 357.9M223.8 366.2Q219.02 375.8 208.3 376.1M63 298.7Q66.85 322.28 50.3 339.5M52.1 384.3Q69.29 391.53 71 410.1M52.1 384.3Q56.39 400.98 71 410.1M71 410.1Q95.68 420.18 106.6 444.5M143.8 426.4Q128.82 442.89 106.6 444.5M143.8 426.4Q103.33 436.45 71 410.1M220.1 321.2Q230.95 342.96 223.8 366.2M220.1 321.2Q215.2 344.25 223.8 366.2M127 287.5Q158.25 276.57 182.6 299M182.6 299Q230.13 292.31 258.4 331.1M182.6 299Q187.67 316.17 179.5 332.1M220.1 321.2Q250.62 320.32 261.9 348.7M220.1 321.2Q253.92 330.45 256.8 365.4M143.8 426.4Q103.32 421.04 89 382.8M143.8 426.4Q106.63 411.03 102.7 371M143.8 426.4Q112.87 401.71 120.1 362.8M143.8 426.4Q113.56 422.58 102.7 394.1M143.8 426.4Q108.72 432.42 86.9 404.3M143.8 426.4Q134.02 461.78 98.2 469.8M143.8 426.4Q144.63 458.61 116.6 474.5M143.8 426.4Q155.05 453.99 136 476.9M143.8 426.4Q163.55 446.85 154.8 473.9M143.8 426.4Q172.41 439.97 173.9 471.6M143.8 426.4Q179.62 430.34 193 463.8M143.8 426.4Q124.38 401.06 137.6 372M143.8 426.4Q116.61 392.19 134 352.1M143.8 426.4Q127.3 390.4 151.3 358.9" fill="none" stroke="#F8BB97" stroke-width="1.3"/>
<g fill="#103B9E">
<circle cx="92.6" cy="234.3" r="3.2"/>
<circle cx="75.7" cy="243.1" r="3.2"/>
<circle cx="60.9" cy="253.3" r="3.2"/>
<circle cx="47.9" cy="264" r="3.2"/>
<circle cx="73.2" cy="266.6" r="3.2"/>
<circle cx="92.6" cy="273.6" r="3.2"/>
<circle cx="35.2" cy="278.3" r="3.2"/>
<circle cx="58.1" cy="279.3" r="3.2"/>
<circle cx="76.1" cy="285.4" r="3.2"/>
<circle cx="94.1" cy="291.6" r="3.2"/>
<circle cx="26.2" cy="295.7" r="3.2"/>
<circle cx="44.4" cy="293.2" r="3.2"/>
<circle cx="80.2" cy="304.5" r="3.2"/>
<circle cx="19.4" cy="310.6" r="3.2"/>
<circle cx="44.6" cy="310.6" r="3.2"/>
<circle cx="96.7" cy="311.5" r="3.2"/>
<circle cx="63.8" cy="316.9" r="3.2"/>
<circle cx="113.5" cy="229.6" r="3.2"/>
<circle cx="131.3" cy="227.6" r="3.2"/>
<circle cx="151.3" cy="227.6" r="3.2"/>
<circle cx="169.8" cy="232.3" r="3.2"/>
<circle cx="186.8" cy="237.8" r="3.2"/>
<circle cx="105.3" cy="246.6" r="3.2"/>
<circle cx="124.8" cy="247.6" r="3.2"/>
<circle cx="142.6" cy="242.1" r="3.2"/>
<circle cx="162" cy="248.2" r="3.2"/>
<circle cx="180" cy="254.8" r="3.2"/>
<circle cx="109.8" cy="262.9" r="3.2"/>
<circle cx="143.6" cy="259.3" r="3.2"/>
<circle cx="162" cy="266.6" r="3.2"/>
<circle cx="179.3" cy="273.8" r="3.2"/>
<circle cx="127.4" cy="268.1" r="3.2"/>
<circle cx="143.6" cy="277.9" r="3.2"/>
<circle cx="111.5" cy="280.7" r="3.2"/>
<circle cx="161.6" cy="285.4" r="3.2"/>
<circle cx="146.9" cy="297.1" r="3.2"/>
<circle cx="111.5" cy="299.9" r="3.2"/>
<circle cx="161.6" cy="306.8" r="3.2"/>
<circle cx="129.4" cy="307.8" r="3.2"/>
<circle cx="144.7" cy="317.2" r="3.2"/>
<circle cx="115.6" cy="319.5" r="3.2"/>
<circle cx="202.2" cy="246.6" r="3.2"/>
<circle cx="217.3" cy="256.2" r="3.2"/>
<circle cx="229.8" cy="270.1" r="3.2"/>
<circle cx="242.1" cy="283" r="3.2"/>
<circle cx="248.8" cy="299.6" r="3.2"/>
<circle cx="254.8" cy="314.4" r="3.2"/>
<circle cx="196.1" cy="263.6" r="3.2"/>
<circle cx="211.8" cy="273.2" r="3.2"/>
<circle cx="194.4" cy="283" r="3.2"/>
<circle cx="211.8" cy="290.1" r="3.2"/>
<circle cx="228.6" cy="294" r="3.2"/>
<circle cx="258.4" cy="331.1" r="3.2"/>
<circle cx="261.9" cy="348.7" r="3.2"/>
<circle cx="256.8" cy="365.4" r="3.2"/>
<circle cx="259.9" cy="382.4" r="3.2"/>
<circle cx="239" cy="326.6" r="3.2"/>
<circle cx="242.5" cy="344" r="3.2"/>
<circle cx="239" cy="361.8" r="3.2"/>
<circle cx="242.1" cy="382.4" r="3.2"/>
<circle cx="195.4" cy="323.5" r="3.2"/>
<circle cx="179.5" cy="332.1" r="3.2"/>
<circle cx="203.6" cy="338.9" r="3.2"/>
<circle cx="224.1" cy="340.9" r="3.2"/>
<circle cx="186" cy="349.7" r="4.3"/>
<circle cx="203.6" cy="356.2" r="4"/>
<circle cx="221.4" cy="357.9" r="3.4"/>
<circle cx="189.5" cy="368.9" r="4.3"/>
<circle cx="208.3" cy="376.1" r="3.2"/>
<circle cx="225.1" cy="379" r="3.2"/>
<circle cx="176.6" cy="382.8" r="3.2"/>
<circle cx="194.8" cy="388.3" r="3.2"/>
<circle cx="212.8" cy="394.6" r="3.2"/>
<circle cx="231.2" cy="398.5" r="3.2"/>
<circle cx="100.5" cy="331.2" r="3.2"/>
<circle cx="131.5" cy="330.3" r="3.2"/>
<circle cx="162.2" cy="326" r="3.2"/>
<circle cx="148.7" cy="338.2" r="3.2"/>
<circle cx="118" cy="341.5" r="3.2"/>
<circle cx="102.7" cy="351.1" r="3.2"/>
<circle cx="166.3" cy="346.4" r="3.5"/>
<circle cx="134" cy="352.1" r="3.2"/>
<circle cx="151.3" cy="358.9" r="3.2"/>
<circle cx="120.1" cy="362.8" r="3.2"/>
<circle cx="171.8" cy="364" r="4.2"/>
<circle cx="102.7" cy="371" r="3.2"/>
<circle cx="137.6" cy="372" r="3.2"/>
<circle cx="157.5" cy="376.7" r="3.8"/>
<circle cx="117.2" cy="381.8" r="3.2"/>
<circle cx="89" cy="382.8" r="3.2"/>
<circle cx="132.7" cy="389.8" r="3.2"/>
<circle cx="149.9" cy="391.8" r="3.8"/>
<circle cx="102.7" cy="394.1" r="3.2"/>
<circle cx="167.7" cy="397.8" r="3.2"/>
<circle cx="32.7" cy="322.9" r="3.2"/>
<circle cx="82.4" cy="323.9" r="3.2"/>
<circle cx="13.9" cy="329" r="3.2"/>
<circle cx="49.7" cy="330.7" r="3.2"/>
<circle cx="68.9" cy="332.7" r="3.2"/>
<circle cx="24.5" cy="341.3" r="3.2"/>
<circle cx="85.9" cy="342.9" r="3.2"/>
<circle cx="49.1" cy="349.1" r="3.2"/>
<circle cx="67.9" cy="353.6" r="3.2"/>
<circle cx="12.7" cy="365" r="3.2"/>
<circle cx="84.9" cy="362.8" r="3.2"/>
<circle cx="53.2" cy="367.5" r="3.2"/>
<circle cx="70.1" cy="374" r="3.2"/>
<circle cx="36.8" cy="376.3" r="3.2"/>
<circle cx="18.8" cy="380.8" r="3.2"/>
<circle cx="37.8" cy="394.5" r="3.2"/>
<circle cx="57.7" cy="391.6" r="3.2"/>
<circle cx="71.8" cy="392.9" r="3.2"/>
<circle cx="20.1" cy="398" r="3.2"/>
<circle cx="86.9" cy="404.3" r="3.2"/>
<circle cx="30.3" cy="413.9" r="3.2"/>
<circle cx="57.7" cy="425.4" r="3.2"/>
<circle cx="38.9" cy="428.9" r="3.2"/>
<circle cx="83.8" cy="423.2" r="3.2"/>
<circle cx="71.6" cy="436.4" r="3.2"/>
<circle cx="51.7" cy="443.6" r="3.2"/>
<circle cx="81.2" cy="448.3" r="3.2"/>
<circle cx="66.9" cy="454.4" r="3.2"/>
<circle cx="98.6" cy="449.3" r="3.2"/>
<circle cx="82.2" cy="462.6" r="3.2"/>
<circle cx="98.2" cy="469.8" r="3.2"/>
<circle cx="102.7" cy="415.6" r="3.2"/>
<circle cx="117.2" cy="403.7" r="3.2"/>
<circle cx="136" cy="408" r="3.2"/>
<circle cx="171.2" cy="419.1" r="3.2"/>
<circle cx="189.7" cy="423.7" r="3.6"/>
<circle cx="120.3" cy="434" r="3.2"/>
<circle cx="158.5" cy="433.6" r="3.2"/>
<circle cx="175.6" cy="437.7" r="3.2"/>
<circle cx="140.7" cy="443.2" r="3.2"/>
<circle cx="110.4" cy="453" r="3.2"/>
<circle cx="123.7" cy="457.9" r="3.2"/>
<circle cx="159.5" cy="453" r="3.2"/>
<circle cx="177.4" cy="454.7" r="3.2"/>
<circle cx="141.7" cy="460.2" r="3.2"/>
<circle cx="116.6" cy="474.5" r="3.2"/>
<circle cx="136" cy="476.9" r="3.2"/>
<circle cx="154.8" cy="473.9" r="3.2"/>
<circle cx="173.9" cy="471.6" r="3.2"/>
<circle cx="220.4" cy="414.4" r="3.2"/>
<circle cx="242.5" cy="415.2" r="3.2"/>
<circle cx="209.2" cy="429.7" r="3.2"/>
<circle cx="232.9" cy="428.7" r="3.2"/>
<circle cx="193.8" cy="442" r="3.2"/>
<circle cx="223.1" cy="442.4" r="3.2"/>
<circle cx="207.7" cy="452.6" r="3.2"/>
<circle cx="193" cy="463.8" r="3.2"/>
</g>
<g fill="#FA4157">
<circle cx="63" cy="298.7" r="12.3"/>
<circle cx="127" cy="287.5" r="13"/>
<circle cx="182.6" cy="299" r="19.5"/>
<circle cx="220.1" cy="321.2" r="18"/>
<circle cx="190.8" cy="405" r="16.8"/>
<circle cx="143.8" cy="426.4" r="17.4"/>
<circle cx="71" cy="410.1" r="7.8"/>
<circle cx="52.1" cy="384.3" r="5.9"/>
<circle cx="106.6" cy="444.5" r="5.4"/>
<circle cx="95.7" cy="256.4" r="2.9"/>
<circle cx="50.3" cy="339.5" r="3"/>
<circle cx="48.1" cy="359.3" r="2.5"/>
<circle cx="223.8" cy="366.2" r="3.1"/>
</g>
<text x="40.9" y="301.4" font-size="7.2" text-anchor="start">M1341_NEG</text>
<text x="104.7" y="290" font-size="7.2" text-anchor="start">M0060_NEG</text>
<text x="160" y="301.5" font-size="7.2" text-anchor="start">M0055_NEG</text>
<text x="197.9" y="323.3" font-size="7.2" text-anchor="start">M0044_NEG</text>
<text x="169.3" y="408" font-size="7.2" text-anchor="start">M0083_NEG</text>
<text x="121.7" y="427.2" font-size="7.2" text-anchor="start">M0798_NEG</text>
<text x="48.7" y="413.8" font-size="7.2" text-anchor="start">M0019_NEG</text>
<text x="30.3" y="385.7" font-size="7.2" text-anchor="start">M2114_POS</text>
<text x="83.8" y="444.3" font-size="7.2" text-anchor="start">M0152_NEG</text>
<text x="73.2" y="258.9" font-size="7.2" text-anchor="start">M0789_NEG</text>
<text x="29" y="342.1" font-size="7.2" text-anchor="start">M0063_NEG</text>
<text x="30.7" y="362.5" font-size="7.2" text-anchor="start">M0050_NEG</text>
<text x="201.6" y="370.6" font-size="7.2" text-anchor="start">M0087_POS</text>
<text x="3.1" y="228.6" font-size="12" text-anchor="start">C</text>
<circle cx="265.5" cy="422.2" r="4" fill="#FA4157"/>
<circle cx="265.5" cy="438.3" r="4" fill="#103B9E"/>
<line x1="257.9" y1="451.9" x2="273.7" y2="451.9" stroke="#F6B38B" stroke-width="1.3"/>
<line x1="257.9" y1="464.1" x2="273.7" y2="464.1" stroke="#8AD5BD" stroke-width="1.3"/>
<text x="279.2" y="424.4" font-size="7.2" text-anchor="start">meta</text>
<text x="279.2" y="439.8" font-size="7.2" text-anchor="start">gene</text>
<text x="279.2" y="453.5" font-size="7.2" text-anchor="start">positive</text>
<text x="279.2" y="466.6" font-size="7.2" text-anchor="start">negative</text>
<path d="M421.5 399.2Q390.46 376.36 398.2 338.6M421.5 399.2Q389 383 390.1 346.7M421.5 399.2Q398.08 376.7 408.7 346M421.5 399.2Q402.04 372.54 418.1 343.7M421.5 399.2Q406.54 373.18 423.9 348.7M421.5 399.2Q403.16 378.8 414 353.6M421.5 399.2Q393.61 389 391.2 359.4M421.5 399.2Q397.92 386.03 400 359.1M421.5 399.2Q403.14 384.38 408.9 361.5M421.5 399.2Q393.86 395.32 385.8 368.6M421.5 399.2Q398.47 392.51 394.9 368.8M421.5 399.2Q404.59 390.5 405.4 371.5M421.5 399.2Q392.24 400.17 379.1 374M421.5 399.2Q401.14 397.01 394.6 377.6M421.5 399.2Q397.18 401.94 384.5 381M421.5 399.2Q407.3 395.95 404.3 381.7M421.5 399.2Q394.43 407.01 376 385.7M421.5 399.2Q404.18 401.76 394.6 387.1M421.5 399.2Q400.48 406.45 385.1 390.4M421.5 399.2Q397.25 411.41 376 394.5M381 430.7Q366.92 414.2 376 394.5M421.5 399.2Q409.6 402.52 401.6 393.1M421.5 399.2Q403.3 410.85 385.1 399.2M381 430.7Q372.97 413.64 385.1 399.2M421.5 399.2Q408.85 408.07 395.5 400.3M421.5 399.2Q414 404 406.5 399.2M381 430.7Q367.4 419.81 371.6 402.9M381 430.7Q373.12 419.04 380.4 407M381 430.7Q379.48 417.09 391.2 410M421.5 399.2Q409.81 414.3 391.2 410M421.5 399.2Q414.08 411.28 400 409.6M421.5 399.2Q419.26 408.81 409.6 410.8M381 430.7Q371.88 424.49 373.7 413.6M381 430.7Q377.91 423.45 383.2 417.6M381 430.7Q383.57 421.16 393.3 419.5M421.5 399.2Q418.72 415.01 403.2 419.1M381 430.7Q388.39 417.8 403.2 419.1M421.5 399.2Q408.86 380.22 420.8 360.8M421.5 399.2Q414.26 376.77 431.6 360.8M421.5 399.2Q420.44 372.32 444.4 360.1M421.5 399.2Q419.17 376.94 438.4 365.5M421.5 399.2Q423.29 373.81 447.1 364.8M421.5 399.2Q409.17 386.65 415.4 370.2M421.5 399.2Q414.12 383.48 425.3 370.2M421.5 399.2Q427.87 375.67 451.9 371.6M421.5 399.2Q432.96 373.61 461 373.3M421.5 399.2Q419.57 383.52 433 375.2M421.5 399.2Q425.33 381.73 442.8 377.9M421.5 399.2Q411.56 391.82 414.1 379.7M421.5 399.2Q416.74 388.79 424.2 380.1M421.5 399.2Q431.5 380.68 452.5 382M421.5 399.2Q436.86 378.94 461.7 384.4M421.5 399.2Q422.74 388.47 433 385.1M421.5 399.2Q428.8 386.49 443.4 387.8M421.5 399.2Q412.94 398.05 410.4 389.8M421.5 399.2Q435.09 385.08 453.6 391.5M421.5 399.2Q426.46 392.08 435 393.6M421.5 399.2Q441.04 384.37 462.7 395.9M421.5 399.2Q432.86 390.52 445.5 397.2M421.5 399.2Q439.44 390.12 455.2 402.6M421.5 399.2Q436.38 395.25 446.2 407.1M421.5 399.2Q444.79 390 462.9 407.3M421.5 399.2Q432.86 399.12 437.7 409.4M421.5 399.2Q429.87 403.36 429.6 412.7M421.5 399.2Q436.74 400.44 442 414.8M421.5 399.2Q442.21 396.66 453.2 414.4M462 442.4Q465.8 431.93 476.9 431M462 442.4Q472.71 429.84 488.6 434.3M381 430.7Q370.5 447.22 351.1 444.6M381 430.7Q367.1 452.14 341.8 448.5M381 430.7Q376.71 446.35 360.7 449M381 430.7Q373.38 452.28 350.6 454.4M381 430.7Q368.98 457.84 339.3 458.3M381 430.7Q379.19 452.86 358.3 460.5M381 430.7Q374.54 458.38 346.7 464.1M381 430.7Q380.42 458.42 355 469.5M381 430.7Q385.59 457.36 363.3 472.7M421.5 399.2Q423.92 412.67 412.7 420.5M421.5 399.2Q429.32 409.77 423 421.3M421.5 399.2Q405.26 429.54 370.9 427.5M381 430.7Q387.38 424.92 395.3 428.3M381 430.7Q392.18 421.85 404.9 428.3M421.5 399.2Q422.51 419.06 404.9 428.3M421.5 399.2Q427.98 417.25 414.3 430.7M421.5 399.2Q432.88 414.12 424.1 430.7M381 430.7Q396.46 426.23 407 438.4M421.5 399.2Q426.79 423.44 407 438.4M421.5 399.2Q432.71 420.78 417.8 440M381 430.7Q402.38 423.57 417.8 440M421.5 399.2Q437.87 417.41 428.2 439.9M462 442.4Q444.3 451.97 428.2 439.9M381 430.7Q386.15 436.99 382.6 444.3M381 430.7Q392.57 435.56 393 448.1M381 430.7Q400.97 429.41 410.5 447M421.5 399.2Q431.3 426.62 410.5 447M421.5 399.2Q437.03 424.57 420.5 449.3M381 430.7Q406.7 427.36 420.5 449.3M462 442.4Q443.46 459.13 420.5 449.3M462 442.4Q448.06 456.19 429.7 449.3M421.5 399.2Q441.63 421.63 429.7 449.3M381 430.7Q390.87 440.73 385.9 453.9M381 430.7Q391.71 439.28 388.4 452.6M381 430.7Q398.44 434.83 402 452.4M381 430.7Q405 433.95 412.1 457.1M421.5 399.2Q435.33 431.16 412.1 457.1M462 442.4Q448.09 463.28 423.3 459.4M421.5 399.2Q441.66 428.72 423.3 459.4M381 430.7Q411.33 431.51 423.3 459.4M462 442.4Q452.95 460.74 432.5 460.2M381 430.7Q386.52 451.77 369.7 465.6M381 430.7Q389.73 450.84 375.1 467.2M381 430.7Q393.07 450.88 379.8 470.3M381 430.7Q394.18 447.22 384.7 466.1M381 430.7Q397.46 446.17 390.3 467.6M381 430.7Q399.72 443.32 396.1 465.6M381 430.7Q403.89 439.59 405.4 464.1M381 430.7Q409.73 437.26 415.8 466.1M462 442.4Q453.72 467.01 427.9 469.8M381 430.7Q398.95 448.95 389.9 472.9M381 430.7Q403.25 445.43 399.2 471.8M381 430.7Q409.07 443.39 409.3 474.2M381 430.7Q391.91 456.77 372.8 477.6M381 430.7Q398.11 454.57 383.6 480.1M381 430.7Q404.29 451.67 395 481.6M421.5 399.2Q448.27 394.89 463.4 417.4M421.5 399.2Q435.07 405.53 435 420.5M421.5 399.2Q441.39 403.74 445.6 423.7M421.5 399.2Q446.72 400.61 456 424.1M421.5 399.2Q437.47 410.61 433.8 429.9M421.5 399.2Q452.61 399.24 465.6 427.5M462 442.4Q449.25 444.5 442 433.8M421.5 399.2Q442.82 409.94 442 433.8M462 442.4Q453.88 441.82 451 434.2M462 442.4Q463.74 436.64 469.7 435.8M462 442.4Q449.76 449.6 438.1 441.5M421.5 399.2Q443.34 415.04 438.1 441.5M462 442.4Q456.13 447.21 449.3 443.9M462 442.4Q468.82 442.05 472 448.1M462 442.4Q473.45 439.58 480.8 448.8M462 442.4Q477 435.34 489.7 446M462 442.4Q483.28 433.15 500.6 448.6M462 442.4Q453.51 453.26 440.1 450.1M462 442.4Q459.87 451.73 450.5 453.7M462 442.4Q465.04 449.13 460.2 454.7M462 442.4Q474.9 441.41 481.2 452.7M462 442.4Q481.77 438.49 493.6 454.8M462 442.4Q458.6 457.9 443.1 461.3M462 442.4Q464.99 455.78 454.1 464.1M462 442.4Q476.59 447.58 478 463M462 442.4Q480.48 443.96 486.8 461.4M462 442.4Q459.23 464.4 438.1 471.1M462 442.4Q463.63 461.02 447.4 470.3M462 442.4Q476.23 452.96 472.6 470.3M462 442.4Q472.68 457.98 463 474.2M462 442.4Q469.22 462.38 454.1 477.3M462 442.4Q465.31 467.06 444.3 480.4M462 442.4Q459.42 446.73 454.4 446.2M462 442.4Q462.78 444.72 461 446.4M421.5 399.2Q394.96 372.49 408.1 337.2M421.5 399.2Q387.71 388.69 383.1 353.6M421.5 399.2Q405.33 366.56 428.2 338.2M421.5 399.2Q410.95 365.64 437 342M421.5 399.2Q416.9 364.15 446.8 345.3M421.5 399.2Q423.41 362.88 457.2 349.4M421.5 399.2Q430.17 362.64 467 355.2M421.5 399.2Q387.3 395.43 376.4 362.8M421.5 399.2Q385.57 400.98 368.9 369.1M421.5 399.2Q388.56 406.32 368.3 379.4M421.5 399.2Q386.41 411.65 360.4 385M421.5 399.2Q391.7 413.97 365.8 393.1M421.5 399.2Q397.73 417.02 371.6 402.9M421.5 399.2Q394.15 421.78 362.2 406.4M421.5 399.2Q403.45 416.25 380.4 407M421.5 399.2Q402.21 421.7 373.7 413.6M421.5 399.2Q399.04 426.33 365 417.3M421.5 399.2Q408.24 420.66 383.2 417.6M421.5 399.2Q413.9 418.37 393.3 419.5M421.5 399.2Q425.19 370.06 453.2 361.2M421.5 399.2Q429.1 369.45 459.3 363.9M421.5 399.2Q435.43 368.22 469.4 367.9M421.5 399.2Q439.46 372.97 470.8 378.3M421.5 399.2Q443.37 379.07 470.8 390.5M421.5 399.2Q446.49 384.4 470.4 400.9M421.5 399.2Q450.03 389.26 471 411M421.5 399.2Q444.68 371.33 479.7 380.7M421.5 399.2Q449.33 377.37 480.8 393.5M421.5 399.2Q452.11 383.49 479.2 404.7M421.5 399.2Q457.26 388.01 482.4 415.8M421.5 399.2Q454.25 393.32 473.3 420.6M421.5 399.2Q459.38 397.37 476.9 431M421.5 399.2Q402.56 431.27 365.5 427.5M421.5 399.2Q417.71 422.13 395.3 428.3M421.5 399.2Q416.48 434.2 382.6 444.3M421.5 399.2Q422.9 432.77 393 448.1M421.5 399.2Q422.04 436.49 388.4 452.6M421.5 399.2Q428.77 432.04 402 452.4M421.5 399.2Q446.52 426.18 432.5 460.2M421.5 399.2Q447.45 407.26 451 434.2M421.5 399.2Q457.31 402.08 469.7 435.8M421.5 399.2Q449.7 412.65 449.3 443.9M421.5 399.2Q447.09 418.7 440.1 450.1M421.5 399.2Q453.44 417.17 450.5 453.7M421.5 399.2Q452.99 412.17 454.4 446.2M421.5 399.2Q456.35 410.16 461 446.4M381 430.7Q366.85 404.73 384.5 381M381 430.7Q364.1 409.8 376 385.7M381 430.7Q373.85 404.55 394.6 387.1M381 430.7Q370.15 409.24 385.1 390.4M381 430.7Q379.27 405.31 401.6 393.1M381 430.7Q378.52 410.86 395.5 400.3M381 430.7Q383.67 406.79 406.5 399.2M381 430.7Q383.75 414.07 400 409.6M381 430.7Q388.93 411.6 409.6 410.8M381 430.7Q393.59 415.46 412.7 420.5M381 430.7Q398.99 412.56 423 421.3M381 430.7Q397.65 420.04 414.3 430.7M381 430.7Q402.55 416.91 424.1 430.7M381 430.7Q407.54 420.2 428.2 439.9M462 442.4Q439.31 448.68 424.1 430.7M462 442.4Q478.52 429.78 496.9 439.5M383.7 326.2Q365.01 319.13 363.6 299.2M383.7 326.2Q369.83 317.74 371.7 301.6M383.7 326.2Q368.93 323.6 365.1 309.1M383.7 326.2Q364.58 328.71 354.3 312.4M383.7 326.2Q372.41 312.63 380 296.7M383.7 326.2Q377.68 310.74 389.2 298.8M383.7 326.2Q382.82 309.63 397.5 301.9M383.7 326.2Q378.59 307.76 393.2 295.4M383.7 326.2Q389.51 306.98 409.4 304.2M383.7 326.2Q377.02 316.87 382.7 306.9M383.7 326.2Q374.68 321.68 375 311.6M383.7 326.2Q382.2 316.37 390.5 310.9M383.7 326.2Q386.8 313.43 399.7 310.9M383.7 326.2Q371.37 328.74 363.9 318.6M383.7 326.2Q376.25 325.9 373.4 319M383.7 326.2Q387.37 319.48 395 320M383.7 326.2Q392.06 315.14 405.6 318.1M383.7 326.2Q367.56 333.57 354.1 322M383.7 326.2Q397.29 317.92 410.5 326.8M383.7 326.2Q374.95 334.34 363.9 329.8M383.7 326.2Q370.15 338.4 353.4 331.2M383.7 326.2Q387.57 325.98 389.4 329.4M383.7 326.2Q394.17 323.94 400.6 332.5M383.7 326.2Q389.36 330.19 388.1 337M383.7 326.2Q376.14 339.28 361.1 337.9M383.7 326.2Q394.92 327.76 398.2 338.6M383.7 326.2Q399.42 323.89 408.1 337.2M383.7 326.2Q381.71 338.61 369.6 342M383.7 326.2Q386.91 335.28 380 342M383.7 326.2Q393.46 334.4 390.1 346.7M383.7 326.2Q402.54 328.1 408.7 346M383.7 326.2Q386.42 340.81 374.3 349.4M383.7 326.2Q380.31 345.35 361.5 350.3M383.7 326.2Q392.17 340.09 383.1 353.6M383.7 326.2Q394.88 308.76 415.4 311.6M383.7 326.2Q399.53 312.61 418.5 321.3M383.7 326.2Q403.16 319.17 417.7 333.9M383.7 326.2Q398.07 340.4 391.2 359.4M352.3 342.7Q350.39 326.94 363.9 318.6M352.3 342.7Q346.58 331.77 354.1 322M352.3 342.7Q353.97 332.54 363.9 329.8M352.3 342.7Q349.17 336.6 353.4 331.2M352.3 342.7Q355.16 337.48 361.1 337.9M352.3 342.7Q360.73 336.81 369.6 342M352.3 342.7Q365.93 333.49 380 342M352.3 342.7Q365.44 339.01 374.3 349.4M352.3 342.7Q359.33 343.56 361.5 350.3M352.3 342.7Q356.88 349.42 352.7 356.4M352.3 342.7Q365.07 345.8 367.6 358.7M352.3 342.7Q362.52 350.75 359.5 363.4M352.3 342.7Q359.44 355.61 350.7 367.5M336.9 311.3Q328.29 308.42 327.3 299.4M336.9 311.3Q332.82 303.27 338.4 296.2M336.9 311.3Q326.73 314.35 319.7 306.4M336.9 311.3Q335.02 309.47 335.9 307M336.9 311.3Q338.86 305.11 345.3 304.3M336.9 311.3Q343.52 301.49 355.2 303.4M336.9 311.3Q345.95 306.28 354.3 312.4M336.9 311.3Q331.75 318.89 322.7 317.4M336.9 311.3Q338.72 314.58 336.5 317.6M336.9 311.3Q339.94 316.05 336.9 320.8M336.9 311.3Q341.75 312.49 342.7 317.4M336.9 311.3Q332.77 321.48 321.8 322M336.9 311.3Q338.62 320.7 330.8 326.2M336.9 311.3Q345.47 315.33 345.4 324.8M435 352.6Q428.16 341.69 435.2 330.9M435 352.6Q434.33 340.76 444.8 335.2M435 352.6Q426.99 347.58 428.2 338.2M435 352.6Q432.61 346.66 437 342M435 352.6Q423.7 353.56 418.1 343.7M435 352.6Q438.56 345.17 446.8 345.3M435 352.6Q428.2 354.2 423.9 348.7M435 352.6Q424.82 359.82 414 353.6M435 352.6Q430.52 361.24 420.8 360.8M435 352.6Q435.92 357.79 431.6 360.8M435 352.6Q442.1 353.34 444.4 360.1M435 352.6Q446.85 351.08 453.2 361.2M435 352.6Q440.83 357.96 438.4 365.5M435 352.6Q444.95 354.83 447.1 364.8M435 352.6Q435.78 364.5 425.3 370.2M492.6 363.3Q482.75 350.22 490.5 335.8M492.6 363.3Q487.48 345.72 501.3 333.7M492.6 363.3Q488.72 351.4 497.9 342.9M492.6 363.3Q494.02 348.23 508.3 343.2M492.6 363.3Q499.78 346.44 518.1 345.9M492.6 363.3Q486.85 356.62 490.5 348.6M492.6 363.3Q493.36 354.36 501.8 351.3M492.6 363.3Q498.73 351.84 511.7 352.6M492.6 363.3Q488.4 359.93 489.7 354.7M492.6 363.3Q492.1 360.87 494.1 359.4M492.6 363.3Q505.95 351.02 522.7 358M492.6 363.3Q507.03 360.19 515.9 372M492.6 363.3Q494.02 370.14 488.4 374.3M492.6 363.3Q511.52 363.24 519.5 380.4M492.6 363.3Q506.88 367.55 509 382.3M492.6 363.3Q501.01 369.62 498.8 379.9M492.6 363.3Q508.36 373.72 505.5 392.4M492.6 363.3Q502.78 374.69 496.7 388.7M492.6 363.3Q481.42 356.29 483.1 343.2M391.4 247.1Q379.44 248.13 373.5 237.7M391.4 247.1Q383.86 243.25 384.2 234.8M391.4 247.1Q388.42 239.35 394.2 233.4M391.4 247.1Q387.26 246.79 385.8 242.9M391.4 247.1Q390.96 252.03 386.3 253.7M391.4 247.1Q391.5 257.39 382.2 261.8M391.4 247.1Q397.18 254.04 393.3 262.2M421.5 399.2Q407.55 423.05 381 430.7" fill="none" stroke="#CDEDE4" stroke-width="0.65"/>
<path d="M363.6 270.6Q351.14 261.38 354.3 246.2M363.6 270.6Q347.31 269.26 341.7 253.9M363.6 270.6Q351.63 266.77 350.1 254.3M363.6 270.6Q357.46 262.76 362 253.9M363.6 270.6Q346.04 274.22 335.4 259.8M363.6 270.6Q357.55 268.41 357 262M363.6 270.6Q363.14 263.28 369.6 259.8M363.6 270.6Q353.1 274.01 345.6 265.9M363.6 270.6Q364.96 265.57 370.1 264.7M382.9 288Q346.18 301.77 318.3 274.2M382.9 288Q351.42 299.05 328.2 275.1M363.6 270.6Q353.33 285.06 335.9 281.8M382.9 288Q357.42 299.94 335.9 281.8M382.9 288Q351.54 305.18 322.8 283.9M363.6 270.6Q361.14 280.42 351.2 282.3M382.9 288Q365.23 295.29 351.2 282.3M363.6 270.6Q364.82 275.81 360.6 279.1M363.6 270.6Q369.03 272.48 369.6 278.2M382.9 288Q373.11 287.36 369.6 278.2M382.9 288Q352.62 310.83 319.2 292.9M382.9 288Q357.22 306.13 330 290.4M382.9 288Q362.74 300.55 342.9 287.5M382.9 288Q370.81 297.08 357.5 289.9M382.9 288Q372.84 293.87 363.3 287.2M382.9 288Q358.75 311.49 327.3 299.4M332.2 380.5Q303.8 341.52 327.3 299.4M382.9 288Q363.27 306.34 338.4 296.2M382.9 288Q368.07 301.72 349.4 294M382.9 288Q376.83 299.78 363.6 299.2M382.9 288Q381.65 298.38 371.7 301.6M332.2 380.5Q302.24 347.45 319.7 306.4M382.9 288Q357.19 317.42 319.7 306.4M382.9 288Q365.48 312.54 335.9 307M332.2 380.5Q310.53 342.57 335.9 307M382.9 288Q369.32 308.18 345.3 304.3M382.9 288Q373.98 304.56 355.2 303.4M382.9 288Q380.75 304.25 365.1 309.1M332.2 380.5Q297.09 355.82 304.8 313.6M382.9 288Q376.41 309.35 354.3 312.4M428.4 264.4Q406.21 255.83 404.7 232.1M428.4 264.4Q411.19 252.37 414.9 231.7M428.4 264.4Q416.51 249.24 425.3 232.1M428.4 264.4Q421.85 247.23 434.7 234.1M428.4 264.4Q408.1 261.75 402 242.2M428.4 264.4Q412.33 257.91 411.5 240.6M428.4 264.4Q417.18 254.8 421.2 240.6M428.4 264.4Q422.94 253.66 430.4 244.2M428.4 264.4Q414.19 263.34 409.2 250M428.4 264.4Q419.73 260.22 419.9 250.6M382.9 288Q373.62 269.76 386.3 253.7M363.6 270.6Q369.54 254.89 386.3 253.7M428.4 264.4Q409.71 269.45 397.3 254.6M428.4 264.4Q410.27 267.68 399.7 252.6M428.4 264.4Q419.03 266.17 413.5 258.4M363.6 270.6Q370.08 260.25 382.2 261.8M382.9 288Q379.84 271.77 393.3 262.2M428.4 264.4Q415.42 270.88 404.1 261.8M382.9 288Q385.12 268.12 404.1 261.8M363.6 270.6Q368.13 266.22 374 268.5M382.9 288Q372.21 281.1 374 268.5M382.9 288Q378.45 278.51 385.2 270.5M382.9 288Q384.15 274.87 396.6 270.5M428.4 264.4Q420.2 274.93 407.2 271.9M382.9 288Q389.9 272.17 407.2 271.9M428.4 264.4Q423.13 270.38 415.5 268.1M428.4 264.4Q427.09 269.4 422 270.3M428.4 264.4Q430.45 269.15 427 273M428.4 264.4Q433.49 264.53 435.5 269.2M428.4 264.4Q427.35 274.66 417.6 278M428.4 264.4Q435.75 269.28 434.4 278M382.9 288Q389.11 278.88 400 280.7M382.9 288Q395.32 277.45 410.1 284.3M428.4 264.4Q425.62 280.21 410.1 284.3M428.4 264.4Q433.77 274.78 426.6 284M382.9 288Q386.57 283.82 391.9 285.4M428.4 264.4Q430.68 279.86 417.6 288.4M382.9 288Q400.38 277.1 417.6 288.4M469.5 312.1Q435.97 316.86 417.6 288.4M469.5 312.1Q444.69 311.98 434.4 289.4M428.4 264.4Q439.4 274.98 434.4 289.4M428.4 264.4Q426.99 244.58 444.4 235M428.4 264.4Q432.74 243.44 453.6 238.6M428.4 264.4Q438.2 242.27 462.4 241.9M469.5 312.1Q443.49 279.27 462.4 241.9M469.5 312.1Q449.64 279.63 470.8 248M469.5 312.1Q455.14 278.65 479.5 251.6M469.5 312.1Q460.92 278.76 487.6 257M469.5 312.1Q466.63 278.77 495.7 262.2M428.4 264.4Q427.32 249.94 440 242.9M428.4 264.4Q433.2 248.99 449.2 246.9M428.4 264.4Q440.33 248.24 460 252.3M469.5 312.1Q445.61 285.24 460 252.3M469.5 312.1Q451.75 284.91 469 257.4M428.4 264.4Q446.46 247.91 469 257.4M469.5 312.1Q457.31 284.24 477.5 261.5M469.5 312.1Q462.96 284.15 485.6 266.5M469.5 312.1Q468.89 284.16 494 271.9M428.4 264.4Q429.73 255.02 438.8 252.3M428.4 264.4Q432.71 255.72 442.4 256M428.4 264.4Q437.38 253.65 450.9 257.3M469.5 312.1Q448.85 290.29 460 262.4M428.4 264.4Q443.56 253.29 460 262.4M469.5 312.1Q455.01 290.01 469 267.6M469.5 312.1Q461.01 289.69 477.8 272.6M469.5 312.1Q466.99 289.67 486.3 278M469.5 312.1Q472.9 287.79 496.4 280.7M428.4 264.4Q437.93 263.87 442.4 272.3M428.4 264.4Q440.89 258.8 451.2 267.8M469.5 312.1Q446.17 295.81 451.2 267.8M469.5 312.1Q452.24 295.59 460 273M469.5 312.1Q458.19 295.31 468.7 278M469.5 312.1Q464.29 294.71 477.9 282.7M469.5 312.1Q470.65 293.96 487.6 287.4M469.5 312.1Q476.26 292.27 497.1 290.1M469.5 312.1Q449.29 301 450.9 278M428.4 264.4Q444 264 450.9 278M469.5 312.1Q455.42 300.89 459.7 283.4M469.5 312.1Q461.42 300.57 468.5 288.4M469.5 312.1Q447.11 306.63 442.7 284M428.4 264.4Q441.82 269.62 442.7 284M469.5 312.1Q452.89 306.31 451.2 288.8M469.5 312.1Q472.88 280.27 503.2 270M469.5 312.1Q478.25 281.62 509.6 276.8M469.5 312.1Q484.1 283.59 516.1 284.9M469.5 312.1Q489.45 286.01 521.5 293.2M469.5 312.1Q494.57 288.94 526.1 302M469.5 312.1Q499.43 292.03 530.2 310.8M469.5 312.1Q478.91 287.05 505.6 285.1M469.5 312.1Q483.99 289.37 510.7 293M469.5 312.1Q472.56 299.71 485.1 297.3M469.5 312.1Q477.7 297.83 494.1 299.3M469.5 312.1Q482.98 294.95 504.2 300M469.5 312.1Q489.04 292.19 515.3 301.6M469.5 312.1Q482.67 301.07 498.2 308.4M469.5 312.1Q487.84 298.03 508.3 308.8M469.5 312.1Q494.01 295 519.8 310.1M332.2 380.5Q307.26 351.99 322.7 317.4M332.2 380.5Q314.22 347.67 336.5 317.6M332.2 380.5Q315.45 349.15 336.9 320.8M332.2 380.5Q317.26 345.59 342.7 317.4M332.2 380.5Q293.78 363.86 292.8 322M332.2 380.5Q304.13 359.21 311.7 324.8M332.2 380.5Q308.28 354.58 321.8 322M332.2 380.5Q314.12 353.8 330.8 326.2M332.2 380.5Q320.98 348.43 345.4 324.8M332.2 380.5Q300.55 364.53 301.8 329.1M332.2 380.5Q310.2 359.34 320.2 330.5M332.2 380.5Q320.09 354.42 338.7 332.5M332.2 380.5Q297.11 369.83 292.1 333.5M332.2 380.5Q306.27 364.54 309.9 334.3M332.2 380.5Q316.08 359.38 328.5 335.9M332.2 380.5Q322.32 356.8 339.7 337.9M332.2 380.5Q302.74 370.04 299.9 338.9M332.2 380.5Q312.53 364.97 318.4 340.6M332.2 380.5Q298.82 375.15 289.7 342.6M332.2 380.5Q308.57 369.9 308.3 344M332.2 380.5Q304.65 375.23 297.9 348M332.2 380.5Q314.64 370.03 316.8 349.7M332.2 380.5Q320.17 365.78 328.5 348.7M332.2 380.5Q301.46 380.37 288.7 352.4M332.2 380.5Q310.94 375.36 306.7 353.9M332.2 380.5Q324.51 365.4 335 352.1M382.9 288Q384.23 293.28 380 296.7M382.9 288Q389.51 291.38 389.2 298.8M382.9 288Q394.65 290.28 397.5 301.9M382.9 288Q390.42 288.4 393.2 295.4M382.9 288Q396.87 283.29 407 294M469.5 312.1Q436.92 327.38 409.4 304.2M428.4 264.4Q431.64 290.38 409.4 304.2M382.9 288Q388.85 297.51 382.7 306.9M382.9 288Q386.5 302.33 375 311.6M469.5 312.1Q429.62 336.78 390.5 310.9M469.5 312.1Q434.22 333.84 399.7 310.9M332.2 380.5Q328.24 339.41 363.9 318.6M332.2 380.5Q333.12 336.57 373.4 319M469.5 312.1Q434.78 339.89 395 320M469.5 312.1Q439.47 335.55 405.6 318.1M332.2 380.5Q324.43 344.24 354.1 322M469.5 312.1Q444.7 338.33 410.5 326.8M332.2 380.5Q331.83 345.01 363.9 329.8M332.2 380.5Q327.02 349.07 353.4 331.2M469.5 312.1Q434.99 346.38 389.4 329.4M332.2 380.5Q344.45 336.65 389.4 329.4M469.5 312.1Q441.58 344.35 400.6 332.5M332.2 380.5Q346.23 340.86 388.1 337M469.5 312.1Q436.77 350.6 388.1 337M332.2 380.5Q333.02 349.95 361.1 337.9M469.5 312.1Q442.33 348.17 398.2 338.6M332.2 380.5Q351.79 338.43 398.2 338.6M469.5 312.1Q446.83 344.3 408.1 337.2M332.2 380.5Q338.58 349.28 369.6 342M332.2 380.5Q343.78 345.95 380 342M332.2 380.5Q350.33 345.07 390.1 346.7M469.5 312.1Q440.87 354.81 390.1 346.7M469.5 312.1Q449.95 348.51 408.7 346M332.2 380.5Q343.3 351.48 374.3 349.4M332.2 380.5Q337.19 356.02 361.5 350.3M332.2 380.5Q349.04 350.76 383.1 353.6M382.9 288Q402.58 282.52 415.8 298.1M469.5 312.1Q438.17 322.28 415.8 298.1M428.4 264.4Q432.88 285.28 415.8 298.1M469.5 312.1Q442.26 317.55 425.9 295.1M428.4 264.4Q436.97 280.55 425.9 295.1M469.5 312.1Q450.81 312.08 443 295.1M469.5 312.1Q447.99 317.69 433.9 300.5M469.5 312.1Q456.74 311.32 452.1 299.4M469.5 312.1Q444.16 323.17 423.5 304.8M469.5 312.1Q454.16 316.98 443.3 305.1M469.5 312.1Q442.29 329.16 415.4 311.6M469.5 312.1Q450.94 322.64 433.6 310.2M469.5 312.1Q448.33 327.48 425.5 314.7M469.5 312.1Q457.18 322.03 443 315M469.5 312.1Q446.94 333.02 418.5 321.3M469.5 312.1Q454.6 327.91 434 321M469.5 312.1Q460.61 326.95 443.4 325.1M469.5 312.1Q452.78 333.66 426.2 327.5M469.5 312.1Q458.37 332.48 435.2 330.9M469.5 312.1Q466.89 325.97 453.2 329.4M469.5 312.1Q450.58 339.58 417.7 333.9M469.5 312.1Q464.54 331.55 444.8 335.2M469.5 312.1Q473.87 326.08 463 335.9M469.5 312.1Q457.2 338.37 428.2 338.2M469.5 312.1Q470.83 330.7 454.5 339.7M469.5 312.1Q480.47 324.95 473.4 340.3M469.5 312.1Q462.82 337.45 437 342M469.5 312.1Q453.91 344.35 418.1 343.7M469.5 312.1Q468.77 335.96 446.8 345.3M469.5 312.1Q478.6 330.17 466 346M469.5 312.1Q458.41 344.99 423.9 348.7M469.5 312.1Q475.29 334.69 457.2 349.4M469.5 312.1Q484.6 329.64 475 350.7M469.5 312.1Q455.03 350.61 414 353.6M469.5 312.1Q482.04 334.45 467 355.2M469.5 312.1Q481.99 307.49 491.4 316.9M469.5 312.1Q487.38 304.46 501.8 317.5M469.5 312.1Q492.83 300.98 512.7 317.5M469.5 312.1Q498.75 298.45 523.4 319.3M469.5 312.1Q504.19 296.38 533 321.3M469.5 312.1Q486.47 310.75 494.8 325.6M469.5 312.1Q492.16 306.97 506.3 325.4M469.5 312.1Q498.07 304.32 517.1 327M469.5 312.1Q503.91 301.99 527.5 329M469.5 312.1Q510.27 300.81 537.6 333.1M469.5 312.1Q487.58 317.23 490.5 335.8M469.5 312.1Q492.31 312.72 501.3 333.7M469.5 312.1Q497.86 309.95 511.7 334.8M469.5 312.1Q503.08 307.74 521.1 336.4M469.5 312.1Q509.27 306.95 530.6 340.9M469.5 312.1Q514.73 305.57 539.6 343.9M469.5 312.1Q493.56 318.41 497.9 342.9M469.5 312.1Q498.85 315.23 508.3 343.2M469.5 312.1Q504.62 313.45 518.1 345.9M490.1 383.9Q491.94 355.94 518.1 345.9M469.5 312.1Q491.68 323.63 490.5 348.6M469.5 312.1Q498.19 321.36 501.8 351.3M490.1 383.9Q485.52 363.86 501.8 351.3M469.5 312.1Q503.56 318.85 511.7 352.6M490.1 383.9Q490.88 361.34 511.7 352.6M469.5 312.1Q511.67 312.25 529.2 350.6M490.1 383.9Q498.99 354.74 529.2 350.6M469.5 312.1Q517.81 310.71 539.3 354M490.1 383.9Q505.13 353.21 539.3 354M469.5 312.1Q493.23 326.94 489.7 354.7M490.1 383.9Q480.56 369.43 489.7 354.7M490.1 383.9Q484.26 370.37 494.1 359.4M469.5 312.1Q496.94 327.88 494.1 359.4M490.1 383.9Q498.11 360.52 522.7 358M469.5 312.1Q510.79 318.03 522.7 358M490.1 383.9Q503.45 359.5 531.2 361.4M469.5 312.1Q516.13 317.01 531.2 361.4M490.1 383.9Q508.71 358.03 540 364.1M469.5 312.1Q521.39 315.54 540 364.1M332.2 380.5Q307.44 380.35 297.2 357.8M332.2 380.5Q320.86 370.49 325.2 356M332.2 380.5Q331.25 366.24 343.8 359.4M332.2 380.5Q304.44 385.79 288 362.8M332.2 380.5Q317.22 375.71 315.3 360.1M332.2 380.5Q327.06 370.82 333.7 362.1M332.2 380.5Q313.98 380.88 306 364.5M332.2 380.5Q310.62 385.43 297.1 367.9M332.2 380.5Q323.19 376.12 323.4 366.1M332.2 380.5Q320.53 381.2 315 370.9M332.2 380.5Q308.02 390.62 288.7 372.9M332.2 380.5Q317.24 386.41 305.6 375.3M332.2 380.5Q313.85 390.48 297.1 378M332.2 380.5Q322.66 386.74 313 380.7M332.2 380.5Q312.4 395.92 290.1 384.4M332.2 380.5Q318.54 393.4 301.1 386.4M332.2 380.5Q323.95 392.05 310 389.4M332.2 380.5Q317.21 399.47 293.7 393.8M332.2 380.5Q323.44 398.09 303.8 397.5M332.2 380.5Q328.87 394.9 314.4 397.9M332.2 380.5Q333.9 391.96 324.2 398.3M332.2 380.5Q339.52 388.08 335.7 397.9M332.2 380.5Q344.73 384.32 346.5 397.3M332.2 380.5Q321.72 403.56 296.4 403.7M332.2 380.5Q328.54 401.1 308.3 406.4M332.2 380.5Q333.98 398.04 318.8 407M332.2 380.5Q339.53 394.49 329.9 407M332.2 380.5Q344.61 390.53 340.7 406M332.2 380.5Q326.73 406.42 300.9 412.3M332.2 380.5Q333.77 404.09 313 415.4M332.2 380.5Q339.17 400.64 323.8 415.4M332.2 380.5Q345.05 397.16 335.3 415.8M332.2 380.5Q349.55 393.08 345.4 414.1M332.2 380.5Q331.47 408.88 305.4 420.1M332.2 380.5Q334.74 361.89 352.7 356.4M332.2 380.5Q342.92 358.27 367.6 358.7M332.2 380.5Q354.95 351.07 391.2 359.4M332.2 380.5Q340.38 363.21 359.5 363.4M332.2 380.5Q348.64 357.51 376.4 362.8M332.2 380.5Q337.29 368.08 350.7 367.5M332.2 380.5Q346.9 363.06 368.9 369.1M332.2 380.5Q355.19 357.4 385.8 368.6M332.2 380.5Q343.84 368.19 359.9 373.6M332.2 380.5Q353.57 362.24 379.1 374M332.2 380.5Q341.37 373.36 351.7 378.7M332.2 380.5Q349.9 368.4 368.3 379.4M332.2 380.5Q358.51 364.01 384.5 381M332.2 380.5Q347.74 373.73 360.4 385M332.2 380.5Q355.76 369.08 376 385.7M332.2 380.5Q344.31 378.6 351.1 388.8M332.2 380.5Q361.82 368.52 385.1 390.4M332.2 380.5Q353.03 376.05 365.8 393.1M332.2 380.5Q358.58 373.48 376 394.5M332.2 380.5Q350.19 380.75 357.5 397.2M332.2 380.5Q359.07 379.09 371.6 402.9M332.2 380.5Q349.74 386.76 351.4 405.3M332.2 380.5Q355.49 383.85 362.2 406.4M332.2 380.5Q354.93 389.7 356.1 414.2M332.2 380.5Q360.38 388.4 365 417.3M469.5 312.1Q466.13 348.58 431.6 360.8M469.5 312.1Q472.31 344.13 444.4 360.1M469.5 312.1Q477.06 341.87 453.2 361.2M469.5 312.1Q471.04 348.75 438.4 365.5M469.5 312.1Q475.16 345.62 447.1 364.8M469.5 312.1Q480.98 341.26 459.3 363.9M469.5 312.1Q487.31 340.03 469.4 367.9M469.5 312.1Q479.74 347.48 451.9 371.6M469.5 312.1Q484.83 345.42 461 373.3M490.1 383.9Q478.66 387.28 470.8 378.3M490.1 383.9Q482.56 393.38 470.8 390.5M490.1 383.9Q485.69 398.7 470.4 400.9M491.8 411.3Q477.77 412.95 470.4 400.9M491.8 411.3Q481.3 417.81 471 411M490.1 383.9Q489.22 403.56 471 411M490.1 383.9Q475.82 377.67 475.5 362.1M469.5 312.1Q488.5 335.18 475.5 362.1M490.1 383.9Q502.91 364.49 525.9 368M490.1 383.9Q499.19 369.69 515.9 372M490.1 383.9Q480.84 380.88 479.7 371.2M490.1 383.9Q486.18 379.64 488.4 374.3M490.1 383.9Q510.98 363.56 538.2 374M490.1 383.9Q507.2 367.67 529.1 376.4M490.1 383.9Q503.68 372.74 519.5 380.4M490.1 383.9Q499.04 377.05 509 382.3M490.1 383.9Q493.17 379.12 498.8 379.9M490.1 383.9Q483.88 385.63 479.7 380.7M490.1 383.9Q513.45 369.17 536.6 384.2M490.1 383.9Q509.42 373.79 526.7 387.1M490.1 383.9Q505.04 378.5 516.2 389.8M490.1 383.9Q500.52 383.22 505.5 392.4M491.8 411.3Q492.6 397.47 505.5 392.4M490.1 383.9Q494.94 384.19 496.7 388.7M490.1 383.9Q488.52 391.68 480.8 393.5M490.1 383.9Q494.46 390.49 490.3 397.2M491.8 411.3Q486.54 404.73 490.3 397.2M490.1 383.9Q515.48 374.99 534.2 394.3M490.1 383.9Q510.85 379.64 523.4 396.7M491.8 411.3Q502.93 393.89 523.4 396.7M490.1 383.9Q505.86 384.52 511.9 399.1M491.8 411.3Q497.95 398.77 511.9 399.1M491.8 411.3Q492.33 403.21 499.9 400.3M490.1 383.9Q500.25 388.96 499.9 400.3M490.1 383.9Q516.7 380.76 530.7 403.6M491.8 411.3Q508.79 395 530.7 403.6M491.8 411.3Q503.81 399.67 519.4 405.7M490.1 383.9Q511.73 385.42 519.4 405.7M491.8 411.3Q496.57 403.67 505.5 404.8M490.1 383.9Q504.49 389.42 505.5 404.8M491.8 411.3Q483.39 412.03 479.2 404.7M490.1 383.9Q491.31 397.79 479.2 404.7M491.8 411.3Q509.22 400.86 526 412.3M490.1 383.9Q517.14 386.61 526 412.3M491.8 411.3Q504.36 405.59 514.8 414.6M491.8 411.3Q488.54 416.56 482.4 415.8M491.8 411.3Q494.5 414.86 492.4 418.8M491.8 411.3Q500.37 411.59 503.7 419.5M491.8 411.3Q510.27 407.02 521.9 422M491.8 411.3Q485.53 421.87 473.3 420.6M491.8 411.3Q505.95 411.27 511.9 424.1M491.8 411.3Q492.68 420.39 484.8 425M491.8 411.3Q499.11 417.76 496.3 427.1M491.8 411.3Q490.65 425.92 476.9 431M491.8 411.3Q504.59 417.07 504.7 431.1M491.8 411.3Q510.25 414.58 515 432.7M491.8 411.3Q497.56 423.82 488.6 434.3M491.8 411.3Q495.01 408.82 498.6 410.7M332.2 380.5Q339.47 406.29 319.1 423.7M332.2 380.5Q344.47 402.53 329.6 422.9M332.2 380.5Q350.7 399.39 341.3 424.1M332.2 380.5Q355.02 395.57 350.9 422.6M332.2 380.5Q360.45 393.92 360.1 425.2M332.2 380.5Q336.55 411.19 310.5 428M332.2 380.5Q345.24 408.8 325 432.5M332.2 380.5Q349.79 405.12 334.8 431.4M332.2 380.5Q358.34 400.21 351.4 432.2M332.2 380.5Q341.94 413.45 316.1 436.1M332.2 380.5Q355.55 405.31 342.8 436.9M332.2 380.5Q365.08 400.83 360.4 439.2M332.2 380.5Q347.99 414.87 323.4 443.6M332.2 380.5Q351.75 410.49 332.7 440.8M332.2 380.5Q358.76 411.43 341.8 448.5M332.2 380.5Q354.96 416.61 331.7 452.4M332.2 380.5Q360.65 417.13 339.3 458.3M332.2 380.5Q363.89 393.34 365.5 427.5M332.2 380.5Q366.59 391.62 370.9 427.5M491.8 411.3Q501.85 429.32 489.7 446M491.8 411.3Q508.14 427.13 500.6 448.6M491.8 411.3Q506.62 432.47 493.6 454.8M491.8 411.3Q509.16 421.47 507.2 441.5M491.8 411.3Q503.37 423.77 496.9 439.5M469.5 312.1Q482.24 318.46 481.8 332.7M469.5 312.1Q486.25 323.3 483.1 343.2M383.7 326.2Q368.93 323.6 365.1 309.1M383.7 326.2Q377.02 316.87 382.7 306.9M383.7 326.2Q374.68 321.68 375 311.6M383.7 326.2Q371.37 328.74 363.9 318.6M383.7 326.2Q376.25 325.9 373.4 319M383.7 326.2Q374.95 334.34 363.9 329.8M383.7 326.2Q387.57 325.98 389.4 329.4M383.7 326.2Q389.36 330.19 388.1 337M383.7 326.2Q376.14 339.28 361.1 337.9M352.3 342.7Q343.12 335.96 345.4 324.8M352.3 342.7Q342.24 341.95 338.7 332.5M352.3 342.7Q344.46 344.33 339.7 337.9M352.3 342.7Q346.66 352.94 335 352.1M352.3 342.7Q346.58 331.77 354.1 322M352.3 342.7Q349.17 336.6 353.4 331.2M352.3 342.7Q355.16 337.48 361.1 337.9M352.3 342.7Q359.33 343.56 361.5 350.3M352.3 342.7Q353.39 353.77 343.8 359.4M352.3 342.7Q356.88 349.42 352.7 356.4M352.3 342.7Q362.52 350.75 359.5 363.4M435 352.6Q432.61 346.66 437 342M435 352.6Q428.2 354.2 423.9 348.7M435 352.6Q435.92 357.79 431.6 360.8M435 352.6Q442.1 353.34 444.4 360.1M391.4 247.1Q387.26 246.79 385.8 242.9M391.4 247.1Q395.13 241.26 402 242.2M391.4 247.1Q390.96 252.03 386.3 253.7M391.4 247.1Q396.75 248.96 397.3 254.6M391.4 247.1Q397.31 247.19 399.7 252.6M391.2 458.8Q370.65 475.69 346.7 464.1M391.2 458.8Q376.52 475.73 355 469.5M391.2 458.8Q381.7 474.68 363.3 472.7M391.2 458.8Q382.63 469.08 369.7 465.6M391.2 458.8Q385.84 468.15 375.1 467.2M391.2 458.8Q389.18 468.2 379.8 470.3M391.2 458.8Q390.29 464.53 384.7 466.1M391.2 458.8Q393.57 463.49 390.3 467.6M391.2 458.8Q395.06 466.27 389.9 472.9M391.2 458.8Q388.68 452.87 393 448.1M391.2 458.8Q386.98 458.05 385.9 453.9M391.2 458.8Q387.82 456.6 388.4 452.6M391.2 458.8Q395.83 460.63 396.1 465.6M462 442.4Q448.64 431.22 453.2 414.4M462 442.4Q447.82 438.3 445.6 423.7M462 442.4Q449.25 444.5 442 433.8M462 442.4Q453.88 441.82 451 434.2M462 442.4Q449.76 449.6 438.1 441.5M462 442.4Q456.13 447.21 449.3 443.9M381 430.7Q391.72 442.71 391.2 458.8M381 430.7Q381.88 446.28 391.2 458.8M382.9 288Q368.9 284.12 363.6 270.6M382.9 288Q374.99 277.37 363.6 270.6M382.9 288Q371.51 281.23 363.6 270.6M383.7 326.2Q372.95 343.87 352.3 342.7M383.7 326.2Q371.3 340.73 352.3 342.7M383.7 326.2Q369.65 337.59 352.3 342.7M383.7 326.2Q365.52 329.74 352.3 342.7M490.1 383.9Q497.8 397.18 491.8 411.3M490.1 383.9Q485.47 397.94 491.8 411.3M490.1 383.9Q493.69 397.43 491.8 411.3M462 442.4Q467.57 417.91 491.8 411.3M469.5 312.1Q501.34 341.82 490.1 383.9M469.5 312.1Q460.35 339.25 435 352.6M382.9 288Q394.76 306.86 383.7 326.2M382.9 288Q389.03 306.98 383.7 326.2M332.2 380.5Q334.69 357.58 352.3 342.7M332.2 380.5Q329.02 354.56 352.3 342.7M428.4 264.4Q463.26 275.92 469.5 312.1M391.4 247.1Q399.42 270.1 382.9 288M391.4 247.1Q393.28 268.82 382.9 288M462 442.4Q428.79 432.95 421.5 399.2M490.1 383.9Q487.23 373.1 492.6 363.3" fill="none" stroke="#F8BB97" stroke-width="1.2"/>
<g fill="#103B9E">
<circle cx="373.5" cy="237.7" r="2.08"/>
<circle cx="354.3" cy="246.2" r="2.08"/>
<circle cx="341.7" cy="253.9" r="2.08"/>
<circle cx="350.1" cy="254.3" r="2.08"/>
<circle cx="362" cy="253.9" r="2.08"/>
<circle cx="335.4" cy="259.8" r="2.08"/>
<circle cx="357" cy="262" r="2.08"/>
<circle cx="369.6" cy="259.8" r="2.08"/>
<circle cx="326.7" cy="265.9" r="2.08"/>
<circle cx="345.6" cy="265.9" r="2.08"/>
<circle cx="370.1" cy="264.7" r="2.08"/>
<circle cx="318.3" cy="274.2" r="2.08"/>
<circle cx="328.2" cy="275.1" r="2.08"/>
<circle cx="335.9" cy="281.8" r="2.08"/>
<circle cx="312.9" cy="283.6" r="2.08"/>
<circle cx="322.8" cy="283.9" r="2.08"/>
<circle cx="351.2" cy="282.3" r="2.08"/>
<circle cx="360.6" cy="279.1" r="2.08"/>
<circle cx="369.6" cy="278.2" r="2.08"/>
<circle cx="307" cy="291.7" r="2.08"/>
<circle cx="319.2" cy="292.9" r="2.08"/>
<circle cx="330" cy="290.4" r="2.08"/>
<circle cx="342.9" cy="287.5" r="2.08"/>
<circle cx="357.5" cy="289.9" r="2.08"/>
<circle cx="363.3" cy="287.2" r="2.08"/>
<circle cx="300.8" cy="299.8" r="2.08"/>
<circle cx="312" cy="299.8" r="2.08"/>
<circle cx="327.3" cy="299.4" r="2.08"/>
<circle cx="338.4" cy="296.2" r="2.08"/>
<circle cx="349.4" cy="294" r="2.08"/>
<circle cx="363.6" cy="299.2" r="2.08"/>
<circle cx="371.7" cy="301.6" r="2.08"/>
<circle cx="319.7" cy="306.4" r="2.08"/>
<circle cx="335.9" cy="307" r="2.08"/>
<circle cx="345.3" cy="304.3" r="2.08"/>
<circle cx="355.2" cy="303.4" r="2.08"/>
<circle cx="365.1" cy="309.1" r="2.08"/>
<circle cx="304.8" cy="313.6" r="2.08"/>
<circle cx="354.3" cy="312.4" r="2.08"/>
<circle cx="384.2" cy="234.8" r="2.08"/>
<circle cx="394.2" cy="233.4" r="2.08"/>
<circle cx="404.7" cy="232.1" r="2.08"/>
<circle cx="414.9" cy="231.7" r="2.08"/>
<circle cx="425.3" cy="232.1" r="2.08"/>
<circle cx="434.7" cy="234.1" r="2.08"/>
<circle cx="385.8" cy="242.9" r="2.08"/>
<circle cx="402" cy="242.2" r="2.08"/>
<circle cx="411.5" cy="240.6" r="2.08"/>
<circle cx="421.2" cy="240.6" r="2.08"/>
<circle cx="430.4" cy="244.2" r="2.08"/>
<circle cx="409.2" cy="250" r="2.08"/>
<circle cx="419.9" cy="250.6" r="2.08"/>
<circle cx="386.3" cy="253.7" r="2.08"/>
<circle cx="397.3" cy="254.6" r="2.08"/>
<circle cx="399.7" cy="252.6" r="2.08"/>
<circle cx="413.5" cy="258.4" r="2.08"/>
<circle cx="382.2" cy="261.8" r="2.08"/>
<circle cx="393.3" cy="262.2" r="2.08"/>
<circle cx="404.1" cy="261.8" r="2.08"/>
<circle cx="374" cy="268.5" r="2.08"/>
<circle cx="385.2" cy="270.5" r="2.08"/>
<circle cx="396.6" cy="270.5" r="2.08"/>
<circle cx="407.2" cy="271.9" r="2.08"/>
<circle cx="415.5" cy="268.1" r="2.08"/>
<circle cx="422" cy="270.3" r="2.08"/>
<circle cx="427" cy="273" r="2.08"/>
<circle cx="435.5" cy="269.2" r="2.08"/>
<circle cx="417.6" cy="278" r="2.08"/>
<circle cx="434.4" cy="278" r="2.08"/>
<circle cx="400" cy="280.7" r="2.08"/>
<circle cx="410.1" cy="284.3" r="2.08"/>
<circle cx="426.6" cy="284" r="2.08"/>
<circle cx="391.9" cy="285.4" r="2.08"/>
<circle cx="417.6" cy="288.4" r="2.08"/>
<circle cx="434.4" cy="289.4" r="2.08"/>
<circle cx="444.4" cy="235" r="2.08"/>
<circle cx="453.6" cy="238.6" r="2.08"/>
<circle cx="462.4" cy="241.9" r="2.08"/>
<circle cx="470.8" cy="248" r="2.08"/>
<circle cx="479.5" cy="251.6" r="2.08"/>
<circle cx="487.6" cy="257" r="2.08"/>
<circle cx="495.7" cy="262.2" r="2.08"/>
<circle cx="440" cy="242.9" r="2.08"/>
<circle cx="449.2" cy="246.9" r="2.08"/>
<circle cx="460" cy="252.3" r="2.08"/>
<circle cx="469" cy="257.4" r="2.08"/>
<circle cx="477.5" cy="261.5" r="2.08"/>
<circle cx="485.6" cy="266.5" r="2.08"/>
<circle cx="494" cy="271.9" r="2.08"/>
<circle cx="438.8" cy="252.3" r="2.08"/>
<circle cx="442.4" cy="256" r="2.08"/>
<circle cx="450.9" cy="257.3" r="2.08"/>
<circle cx="460" cy="262.4" r="2.08"/>
<circle cx="469" cy="267.6" r="2.08"/>
<circle cx="477.8" cy="272.6" r="2.08"/>
<circle cx="486.3" cy="278" r="2.08"/>
<circle cx="496.4" cy="280.7" r="2.08"/>
<circle cx="442.4" cy="272.3" r="2.08"/>
<circle cx="451.2" cy="267.8" r="2.08"/>
<circle cx="460" cy="273" r="2.08"/>
<circle cx="468.7" cy="278" r="2.08"/>
<circle cx="477.9" cy="282.7" r="2.08"/>
<circle cx="487.6" cy="287.4" r="2.08"/>
<circle cx="497.1" cy="290.1" r="2.08"/>
<circle cx="450.9" cy="278" r="2.08"/>
<circle cx="459.7" cy="283.4" r="2.08"/>
<circle cx="468.5" cy="288.4" r="2.08"/>
<circle cx="442.7" cy="284" r="2.08"/>
<circle cx="451.2" cy="288.8" r="2.08"/>
<circle cx="503.2" cy="270" r="2.08"/>
<circle cx="509.6" cy="276.8" r="2.08"/>
<circle cx="516.1" cy="284.9" r="2.08"/>
<circle cx="521.5" cy="293.2" r="2.08"/>
<circle cx="526.1" cy="302" r="2.08"/>
<circle cx="530.2" cy="310.8" r="2.08"/>
<circle cx="505.6" cy="285.1" r="2.08"/>
<circle cx="510.7" cy="293" r="2.08"/>
<circle cx="485.1" cy="297.3" r="2.08"/>
<circle cx="494.1" cy="299.3" r="2.08"/>
<circle cx="504.2" cy="300" r="2.08"/>
<circle cx="515.3" cy="301.6" r="2.08"/>
<circle cx="498.2" cy="308.4" r="2.08"/>
<circle cx="508.3" cy="308.8" r="2.08"/>
<circle cx="519.8" cy="310.1" r="2.08"/>
<circle cx="322.7" cy="317.4" r="2.08"/>
<circle cx="336.5" cy="317.6" r="2.08"/>
<circle cx="336.9" cy="320.8" r="2.08"/>
<circle cx="342.7" cy="317.4" r="2.08"/>
<circle cx="292.8" cy="322" r="2.08"/>
<circle cx="311.7" cy="324.8" r="2.08"/>
<circle cx="321.8" cy="322" r="2.08"/>
<circle cx="330.8" cy="326.2" r="2.08"/>
<circle cx="345.4" cy="324.8" r="2.08"/>
<circle cx="301.8" cy="329.1" r="2.08"/>
<circle cx="320.2" cy="330.5" r="2.08"/>
<circle cx="338.7" cy="332.5" r="2.08"/>
<circle cx="292.1" cy="333.5" r="2.08"/>
<circle cx="309.9" cy="334.3" r="2.08"/>
<circle cx="328.5" cy="335.9" r="2.08"/>
<circle cx="339.7" cy="337.9" r="2.08"/>
<circle cx="299.9" cy="338.9" r="2.08"/>
<circle cx="318.4" cy="340.6" r="2.08"/>
<circle cx="289.7" cy="342.6" r="2.08"/>
<circle cx="308.3" cy="344" r="2.08"/>
<circle cx="297.9" cy="348" r="2.08"/>
<circle cx="316.8" cy="349.7" r="2.08"/>
<circle cx="328.5" cy="348.7" r="2.08"/>
<circle cx="288.7" cy="352.4" r="2.08"/>
<circle cx="306.7" cy="353.9" r="2.08"/>
<circle cx="335" cy="352.1" r="2.08"/>
<circle cx="380" cy="296.7" r="2.08"/>
<circle cx="389.2" cy="298.8" r="2.08"/>
<circle cx="397.5" cy="301.9" r="2.08"/>
<circle cx="393.2" cy="295.4" r="2.08"/>
<circle cx="407" cy="294" r="2.08"/>
<circle cx="409.4" cy="304.2" r="2.08"/>
<circle cx="382.7" cy="306.9" r="2.08"/>
<circle cx="375" cy="311.6" r="2.08"/>
<circle cx="390.5" cy="310.9" r="2.08"/>
<circle cx="399.7" cy="310.9" r="2.08"/>
<circle cx="363.9" cy="318.6" r="2.08"/>
<circle cx="373.4" cy="319" r="2.08"/>
<circle cx="395" cy="320" r="2.08"/>
<circle cx="405.6" cy="318.1" r="2.08"/>
<circle cx="354.1" cy="322" r="2.08"/>
<circle cx="410.5" cy="326.8" r="2.08"/>
<circle cx="363.9" cy="329.8" r="2.08"/>
<circle cx="353.4" cy="331.2" r="2.08"/>
<circle cx="389.4" cy="329.4" r="2.08"/>
<circle cx="400.6" cy="332.5" r="2.08"/>
<circle cx="388.1" cy="337" r="2.08"/>
<circle cx="361.1" cy="337.9" r="2.08"/>
<circle cx="398.2" cy="338.6" r="2.08"/>
<circle cx="408.1" cy="337.2" r="2.08"/>
<circle cx="369.6" cy="342" r="2.08"/>
<circle cx="380" cy="342" r="2.08"/>
<circle cx="390.1" cy="346.7" r="2.08"/>
<circle cx="408.7" cy="346" r="2.08"/>
<circle cx="374.3" cy="349.4" r="2.08"/>
<circle cx="361.5" cy="350.3" r="2.08"/>
<circle cx="383.1" cy="353.6" r="2.08"/>
<circle cx="415.8" cy="298.1" r="2.08"/>
<circle cx="425.9" cy="295.1" r="2.08"/>
<circle cx="443" cy="295.1" r="2.08"/>
<circle cx="433.9" cy="300.5" r="2.08"/>
<circle cx="452.1" cy="299.4" r="2.08"/>
<circle cx="423.5" cy="304.8" r="2.08"/>
<circle cx="443.3" cy="305.1" r="2.08"/>
<circle cx="415.4" cy="311.6" r="2.08"/>
<circle cx="433.6" cy="310.2" r="2.08"/>
<circle cx="425.5" cy="314.7" r="2.08"/>
<circle cx="443" cy="315" r="2.08"/>
<circle cx="418.5" cy="321.3" r="2.08"/>
<circle cx="434" cy="321" r="2.08"/>
<circle cx="443.4" cy="325.1" r="2.08"/>
<circle cx="426.2" cy="327.5" r="2.08"/>
<circle cx="435.2" cy="330.9" r="2.08"/>
<circle cx="453.2" cy="329.4" r="2.08"/>
<circle cx="417.7" cy="333.9" r="2.08"/>
<circle cx="444.8" cy="335.2" r="2.08"/>
<circle cx="463" cy="335.9" r="2.08"/>
<circle cx="428.2" cy="338.2" r="2.08"/>
<circle cx="454.5" cy="339.7" r="2.08"/>
<circle cx="473.4" cy="340.3" r="2.08"/>
<circle cx="437" cy="342" r="2.08"/>
<circle cx="418.1" cy="343.7" r="2.08"/>
<circle cx="446.8" cy="345.3" r="2.08"/>
<circle cx="466" cy="346" r="2.08"/>
<circle cx="423.9" cy="348.7" r="2.08"/>
<circle cx="457.2" cy="349.4" r="2.08"/>
<circle cx="475" cy="350.7" r="2.08"/>
<circle cx="414" cy="353.6" r="2.08"/>
<circle cx="467" cy="355.2" r="2.08"/>
<circle cx="491.4" cy="316.9" r="2.08"/>
<circle cx="501.8" cy="317.5" r="2.08"/>
<circle cx="512.7" cy="317.5" r="2.08"/>
<circle cx="523.4" cy="319.3" r="2.08"/>
<circle cx="533" cy="321.3" r="2.08"/>
<circle cx="494.8" cy="325.6" r="2.08"/>
<circle cx="506.3" cy="325.4" r="2.08"/>
<circle cx="517.1" cy="327" r="2.08"/>
<circle cx="527.5" cy="329" r="2.08"/>
<circle cx="537.6" cy="333.1" r="2.08"/>
<circle cx="490.5" cy="335.8" r="2.08"/>
<circle cx="501.3" cy="333.7" r="2.08"/>
<circle cx="511.7" cy="334.8" r="2.08"/>
<circle cx="521.1" cy="336.4" r="2.08"/>
<circle cx="530.6" cy="340.9" r="2.08"/>
<circle cx="539.6" cy="343.9" r="2.08"/>
<circle cx="497.9" cy="342.9" r="2.08"/>
<circle cx="508.3" cy="343.2" r="2.08"/>
<circle cx="518.1" cy="345.9" r="2.08"/>
<circle cx="490.5" cy="348.6" r="2.08"/>
<circle cx="501.8" cy="351.3" r="2.08"/>
<circle cx="511.7" cy="352.6" r="2.08"/>
<circle cx="529.2" cy="350.6" r="2.08"/>
<circle cx="539.3" cy="354" r="2.08"/>
<circle cx="489.7" cy="354.7" r="2.08"/>
<circle cx="494.1" cy="359.4" r="2.08"/>
<circle cx="522.7" cy="358" r="2.08"/>
<circle cx="531.2" cy="361.4" r="2.08"/>
<circle cx="540" cy="364.1" r="2.08"/>
<circle cx="297.2" cy="357.8" r="2.08"/>
<circle cx="325.2" cy="356" r="2.08"/>
<circle cx="343.8" cy="359.4" r="2.08"/>
<circle cx="288" cy="362.8" r="2.08"/>
<circle cx="315.3" cy="360.1" r="2.08"/>
<circle cx="333.7" cy="362.1" r="2.08"/>
<circle cx="306" cy="364.5" r="2.08"/>
<circle cx="297.1" cy="367.9" r="2.08"/>
<circle cx="323.4" cy="366.1" r="2.08"/>
<circle cx="315" cy="370.9" r="2.08"/>
<circle cx="288.7" cy="372.9" r="2.08"/>
<circle cx="305.6" cy="375.3" r="2.08"/>
<circle cx="297.1" cy="378" r="2.08"/>
<circle cx="313" cy="380.7" r="2.08"/>
<circle cx="290.1" cy="384.4" r="2.08"/>
<circle cx="301.1" cy="386.4" r="2.08"/>
<circle cx="310" cy="389.4" r="2.08"/>
<circle cx="293.7" cy="393.8" r="2.08"/>
<circle cx="303.8" cy="397.5" r="2.08"/>
<circle cx="314.4" cy="397.9" r="2.08"/>
<circle cx="324.2" cy="398.3" r="2.08"/>
<circle cx="335.7" cy="397.9" r="2.08"/>
<circle cx="346.5" cy="397.3" r="2.08"/>
<circle cx="296.4" cy="403.7" r="2.08"/>
<circle cx="308.3" cy="406.4" r="2.08"/>
<circle cx="318.8" cy="407" r="2.08"/>
<circle cx="329.9" cy="407" r="2.08"/>
<circle cx="340.7" cy="406" r="2.08"/>
<circle cx="300.9" cy="412.3" r="2.08"/>
<circle cx="313" cy="415.4" r="2.08"/>
<circle cx="323.8" cy="415.4" r="2.08"/>
<circle cx="335.3" cy="415.8" r="2.08"/>
<circle cx="345.4" cy="414.1" r="2.08"/>
<circle cx="305.4" cy="420.1" r="2.08"/>
<circle cx="352.7" cy="356.4" r="2.08"/>
<circle cx="367.6" cy="358.7" r="2.08"/>
<circle cx="391.2" cy="359.4" r="2.08"/>
<circle cx="400" cy="359.1" r="2.08"/>
<circle cx="408.9" cy="361.5" r="2.08"/>
<circle cx="359.5" cy="363.4" r="2.08"/>
<circle cx="376.4" cy="362.8" r="2.08"/>
<circle cx="350.7" cy="367.5" r="2.08"/>
<circle cx="368.9" cy="369.1" r="2.08"/>
<circle cx="385.8" cy="368.6" r="2.08"/>
<circle cx="394.9" cy="368.8" r="2.08"/>
<circle cx="405.4" cy="371.5" r="2.08"/>
<circle cx="359.9" cy="373.6" r="2.08"/>
<circle cx="379.1" cy="374" r="2.08"/>
<circle cx="351.7" cy="378.7" r="2.08"/>
<circle cx="368.3" cy="379.4" r="2.08"/>
<circle cx="394.6" cy="377.6" r="2.08"/>
<circle cx="384.5" cy="381" r="2.08"/>
<circle cx="404.3" cy="381.7" r="2.08"/>
<circle cx="360.4" cy="385" r="2.08"/>
<circle cx="376" cy="385.7" r="2.08"/>
<circle cx="394.6" cy="387.1" r="2.08"/>
<circle cx="351.1" cy="388.8" r="2.08"/>
<circle cx="385.1" cy="390.4" r="2.08"/>
<circle cx="365.8" cy="393.1" r="2.08"/>
<circle cx="376" cy="394.5" r="2.08"/>
<circle cx="401.6" cy="393.1" r="2.08"/>
<circle cx="357.5" cy="397.2" r="2.08"/>
<circle cx="385.1" cy="399.2" r="2.08"/>
<circle cx="395.5" cy="400.3" r="2.08"/>
<circle cx="406.5" cy="399.2" r="2.08"/>
<circle cx="371.6" cy="402.9" r="2.08"/>
<circle cx="351.4" cy="405.3" r="2.08"/>
<circle cx="362.2" cy="406.4" r="2.08"/>
<circle cx="380.4" cy="407" r="2.08"/>
<circle cx="391.2" cy="410" r="2.08"/>
<circle cx="400" cy="409.6" r="2.08"/>
<circle cx="409.6" cy="410.8" r="2.08"/>
<circle cx="373.7" cy="413.6" r="2.08"/>
<circle cx="356.1" cy="414.2" r="2.08"/>
<circle cx="365" cy="417.3" r="2.08"/>
<circle cx="383.2" cy="417.6" r="2.08"/>
<circle cx="393.3" cy="419.5" r="2.08"/>
<circle cx="403.2" cy="419.1" r="2.08"/>
<circle cx="420.8" cy="360.8" r="2.08"/>
<circle cx="431.6" cy="360.8" r="2.08"/>
<circle cx="444.4" cy="360.1" r="2.08"/>
<circle cx="453.2" cy="361.2" r="2.08"/>
<circle cx="438.4" cy="365.5" r="2.08"/>
<circle cx="447.1" cy="364.8" r="2.08"/>
<circle cx="459.3" cy="363.9" r="2.08"/>
<circle cx="469.4" cy="367.9" r="2.08"/>
<circle cx="415.4" cy="370.2" r="2.08"/>
<circle cx="425.3" cy="370.2" r="2.08"/>
<circle cx="451.9" cy="371.6" r="2.08"/>
<circle cx="461" cy="373.3" r="2.08"/>
<circle cx="433" cy="375.2" r="2.08"/>
<circle cx="442.8" cy="377.9" r="2.08"/>
<circle cx="470.8" cy="378.3" r="2.08"/>
<circle cx="414.1" cy="379.7" r="2.08"/>
<circle cx="424.2" cy="380.1" r="2.08"/>
<circle cx="452.5" cy="382" r="2.08"/>
<circle cx="461.7" cy="384.4" r="2.08"/>
<circle cx="433" cy="385.1" r="2.08"/>
<circle cx="443.4" cy="387.8" r="2.08"/>
<circle cx="410.4" cy="389.8" r="2.08"/>
<circle cx="470.8" cy="390.5" r="2.08"/>
<circle cx="453.6" cy="391.5" r="2.08"/>
<circle cx="435" cy="393.6" r="2.08"/>
<circle cx="462.7" cy="395.9" r="2.08"/>
<circle cx="445.5" cy="397.2" r="2.08"/>
<circle cx="470.4" cy="400.9" r="2.08"/>
<circle cx="455.2" cy="402.6" r="2.08"/>
<circle cx="446.2" cy="407.1" r="2.08"/>
<circle cx="462.9" cy="407.3" r="2.08"/>
<circle cx="437.7" cy="409.4" r="2.08"/>
<circle cx="471" cy="411" r="2.08"/>
<circle cx="429.6" cy="412.7" r="2.08"/>
<circle cx="442" cy="414.8" r="2.08"/>
<circle cx="453.2" cy="414.4" r="2.08"/>
<circle cx="475.5" cy="362.1" r="2.08"/>
<circle cx="525.9" cy="368" r="2.08"/>
<circle cx="515.9" cy="372" r="2.08"/>
<circle cx="479.7" cy="371.2" r="2.08"/>
<circle cx="488.4" cy="374.3" r="2.08"/>
<circle cx="538.2" cy="374" r="2.08"/>
<circle cx="529.1" cy="376.4" r="2.08"/>
<circle cx="519.5" cy="380.4" r="2.08"/>
<circle cx="509" cy="382.3" r="2.08"/>
<circle cx="498.8" cy="379.9" r="2.08"/>
<circle cx="479.7" cy="380.7" r="2.08"/>
<circle cx="536.6" cy="384.2" r="2.08"/>
<circle cx="526.7" cy="387.1" r="2.08"/>
<circle cx="516.2" cy="389.8" r="2.08"/>
<circle cx="505.5" cy="392.4" r="2.08"/>
<circle cx="496.7" cy="388.7" r="2.08"/>
<circle cx="480.8" cy="393.5" r="2.08"/>
<circle cx="490.3" cy="397.2" r="2.08"/>
<circle cx="534.2" cy="394.3" r="2.08"/>
<circle cx="523.4" cy="396.7" r="2.08"/>
<circle cx="511.9" cy="399.1" r="2.08"/>
<circle cx="499.9" cy="400.3" r="2.08"/>
<circle cx="530.7" cy="403.6" r="2.08"/>
<circle cx="519.4" cy="405.7" r="2.08"/>
<circle cx="505.5" cy="404.8" r="2.08"/>
<circle cx="479.2" cy="404.7" r="2.08"/>
<circle cx="526" cy="412.3" r="2.08"/>
<circle cx="514.8" cy="414.6" r="2.08"/>
<circle cx="482.4" cy="415.8" r="2.08"/>
<circle cx="492.4" cy="418.8" r="2.08"/>
<circle cx="503.7" cy="419.5" r="2.08"/>
<circle cx="521.9" cy="422" r="2.08"/>
<circle cx="473.3" cy="420.6" r="2.08"/>
<circle cx="511.9" cy="424.1" r="2.08"/>
<circle cx="484.8" cy="425" r="2.08"/>
<circle cx="496.3" cy="427.1" r="2.08"/>
<circle cx="476.9" cy="431" r="2.08"/>
<circle cx="504.7" cy="431.1" r="2.08"/>
<circle cx="515" cy="432.7" r="2.08"/>
<circle cx="488.6" cy="434.3" r="2.08"/>
<circle cx="498.6" cy="410.7" r="2.08"/>
<circle cx="319.1" cy="423.7" r="2.08"/>
<circle cx="329.6" cy="422.9" r="2.08"/>
<circle cx="341.3" cy="424.1" r="2.08"/>
<circle cx="350.9" cy="422.6" r="2.08"/>
<circle cx="360.1" cy="425.2" r="2.08"/>
<circle cx="310.5" cy="428" r="2.08"/>
<circle cx="325" cy="432.5" r="2.08"/>
<circle cx="334.8" cy="431.4" r="2.08"/>
<circle cx="351.4" cy="432.2" r="2.08"/>
<circle cx="316.1" cy="436.1" r="2.08"/>
<circle cx="342.8" cy="436.9" r="2.08"/>
<circle cx="360.4" cy="439.2" r="2.08"/>
<circle cx="323.4" cy="443.6" r="2.08"/>
<circle cx="332.7" cy="440.8" r="2.08"/>
<circle cx="351.1" cy="444.6" r="2.08"/>
<circle cx="341.8" cy="448.5" r="2.08"/>
<circle cx="360.7" cy="449" r="2.08"/>
<circle cx="331.7" cy="452.4" r="2.08"/>
<circle cx="350.6" cy="454.4" r="2.08"/>
<circle cx="339.3" cy="458.3" r="2.08"/>
<circle cx="358.3" cy="460.5" r="2.08"/>
<circle cx="346.7" cy="464.1" r="2.08"/>
<circle cx="355" cy="469.5" r="2.08"/>
<circle cx="363.3" cy="472.7" r="2.08"/>
<circle cx="412.7" cy="420.5" r="2.08"/>
<circle cx="423" cy="421.3" r="2.08"/>
<circle cx="365.5" cy="427.5" r="2.08"/>
<circle cx="370.9" cy="427.5" r="2.08"/>
<circle cx="395.3" cy="428.3" r="2.08"/>
<circle cx="404.9" cy="428.3" r="2.08"/>
<circle cx="414.3" cy="430.7" r="2.08"/>
<circle cx="424.1" cy="430.7" r="2.08"/>
<circle cx="407" cy="438.4" r="2.08"/>
<circle cx="417.8" cy="440" r="2.08"/>
<circle cx="428.2" cy="439.9" r="2.08"/>
<circle cx="382.6" cy="444.3" r="2.08"/>
<circle cx="393" cy="448.1" r="2.08"/>
<circle cx="410.5" cy="447" r="2.08"/>
<circle cx="420.5" cy="449.3" r="2.08"/>
<circle cx="429.7" cy="449.3" r="2.08"/>
<circle cx="385.9" cy="453.9" r="2.08"/>
<circle cx="388.4" cy="452.6" r="2.08"/>
<circle cx="402" cy="452.4" r="2.08"/>
<circle cx="412.1" cy="457.1" r="2.08"/>
<circle cx="423.3" cy="459.4" r="2.08"/>
<circle cx="432.5" cy="460.2" r="2.08"/>
<circle cx="369.7" cy="465.6" r="2.08"/>
<circle cx="375.1" cy="467.2" r="2.08"/>
<circle cx="379.8" cy="470.3" r="2.08"/>
<circle cx="384.7" cy="466.1" r="2.08"/>
<circle cx="390.3" cy="467.6" r="2.08"/>
<circle cx="396.1" cy="465.6" r="2.08"/>
<circle cx="405.4" cy="464.1" r="2.08"/>
<circle cx="415.8" cy="466.1" r="2.08"/>
<circle cx="427.9" cy="469.8" r="2.08"/>
<circle cx="389.9" cy="472.9" r="2.08"/>
<circle cx="399.2" cy="471.8" r="2.08"/>
<circle cx="409.3" cy="474.2" r="2.08"/>
<circle cx="419.4" cy="474.9" r="2.08"/>
<circle cx="372.8" cy="477.6" r="2.08"/>
<circle cx="383.6" cy="480.1" r="2.08"/>
<circle cx="395" cy="481.6" r="2.08"/>
<circle cx="403.8" cy="483.2" r="2.08"/>
<circle cx="413.6" cy="483.5" r="2.08"/>
<circle cx="424.8" cy="482.3" r="2.08"/>
<circle cx="433.9" cy="480.1" r="2.08"/>
<circle cx="463.4" cy="417.4" r="2.08"/>
<circle cx="435" cy="420.5" r="2.08"/>
<circle cx="445.6" cy="423.7" r="2.08"/>
<circle cx="456" cy="424.1" r="2.08"/>
<circle cx="433.8" cy="429.9" r="2.08"/>
<circle cx="465.6" cy="427.5" r="2.08"/>
<circle cx="442" cy="433.8" r="2.08"/>
<circle cx="451" cy="434.2" r="2.08"/>
<circle cx="469.7" cy="435.8" r="2.08"/>
<circle cx="438.1" cy="441.5" r="2.08"/>
<circle cx="449.3" cy="443.9" r="2.08"/>
<circle cx="472" cy="448.1" r="2.08"/>
<circle cx="480.8" cy="448.8" r="2.08"/>
<circle cx="489.7" cy="446" r="2.08"/>
<circle cx="500.6" cy="448.6" r="2.08"/>
<circle cx="440.1" cy="450.1" r="2.08"/>
<circle cx="450.5" cy="453.7" r="2.08"/>
<circle cx="460.2" cy="454.7" r="2.08"/>
<circle cx="481.2" cy="452.7" r="2.08"/>
<circle cx="493.6" cy="454.8" r="2.08"/>
<circle cx="443.1" cy="461.3" r="2.08"/>
<circle cx="454.1" cy="464.1" r="2.08"/>
<circle cx="478" cy="463" r="2.08"/>
<circle cx="486.8" cy="461.4" r="2.08"/>
<circle cx="438.1" cy="471.1" r="2.08"/>
<circle cx="447.4" cy="470.3" r="2.08"/>
<circle cx="472.6" cy="470.3" r="2.08"/>
<circle cx="463" cy="474.2" r="2.08"/>
<circle cx="454.1" cy="477.3" r="2.08"/>
<circle cx="444.3" cy="480.4" r="2.08"/>
<circle cx="507.2" cy="441.5" r="2.08"/>
<circle cx="496.9" cy="439.5" r="2.08"/>
<circle cx="454.4" cy="446.2" r="2.08"/>
<circle cx="461" cy="446.4" r="2.08"/>
<circle cx="481.8" cy="332.7" r="2.08"/>
<circle cx="483.1" cy="343.2" r="2.08"/>
</g>
<g fill="#FA4157">
<circle cx="469.5" cy="312.1" r="19.7"/>
<circle cx="332.2" cy="380.5" r="15.3"/>
<circle cx="421.5" cy="399.2" r="13.5"/>
<circle cx="381" cy="430.7" r="8.5"/>
<circle cx="382.9" cy="288" r="6.3"/>
<circle cx="383.7" cy="326.2" r="6.9"/>
<circle cx="352.3" cy="342.7" r="7.2"/>
<circle cx="490.1" cy="383.9" r="6.4"/>
<circle cx="491.8" cy="411.3" r="5.6"/>
<circle cx="428.4" cy="264.4" r="5.3"/>
<circle cx="462" cy="442.4" r="5"/>
<circle cx="363.6" cy="270.6" r="4.4"/>
<circle cx="391.2" cy="458.8" r="3.2"/>
<circle cx="391.4" cy="247.1" r="2.7"/>
<circle cx="435" cy="352.6" r="3.3"/>
<circle cx="492.6" cy="363.3" r="3.3"/>
<circle cx="336.9" cy="311.3" r="2.2"/>
</g>
<text x="450.2" y="314.7" font-size="7.2" text-anchor="start">M0300_POS</text>
<text x="308.4" y="378.2" font-size="7.2" text-anchor="start">M0188_NEG</text>
<text x="401.6" y="407.7" font-size="7.2" text-anchor="start">M0173_POS</text>
<text x="361.1" y="437" font-size="7.2" text-anchor="start">M1527_POS</text>
<text x="364.9" y="292.5" font-size="7.2" text-anchor="start">M0461_POS</text>
<text x="361.4" y="328.6" font-size="7.2" text-anchor="start">M0044_NEG</text>
<text x="325.6" y="346.3" font-size="7.2" text-anchor="start">M0055_NEG</text>
<text x="466.9" y="388.9" font-size="7.2" text-anchor="start">M2696_POS</text>
<text x="475" y="413.5" font-size="7.2" text-anchor="start">M1261_NEG</text>
<text x="414.6" y="265.6" font-size="7.2" text-anchor="start">M1221_NEG</text>
<text x="451.4" y="443.9" font-size="7.2" text-anchor="start">M0928_POS</text>
<text x="340.6" y="275.1" font-size="7.2" text-anchor="start">M0462_POS</text>
<text x="368.1" y="461.3" font-size="7.2" text-anchor="start">M0103_NEG</text>
<text x="365" y="250.3" font-size="7.2" text-anchor="start">M0059_NEG</text>
<text x="422.6" y="356.6" font-size="7.2" text-anchor="start">M1006_NEG</text>
<text x="478.4" y="364.8" font-size="7.2" text-anchor="start">M1341_NEG</text>
<text x="311.8" y="313.8" font-size="7.2" text-anchor="start">M0130_NEG</text>
<text x="281.3" y="227.8" font-size="12" text-anchor="start">D</text>
</svg>
</body></html>
